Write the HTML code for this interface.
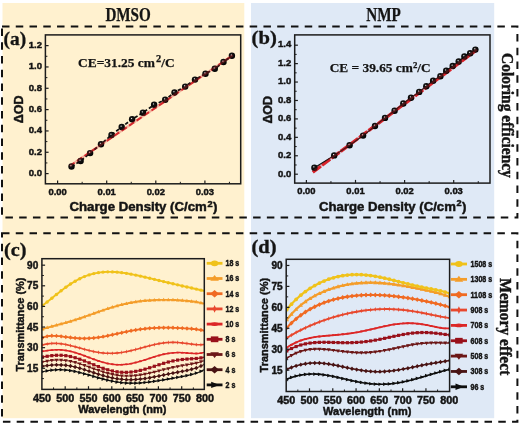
<!DOCTYPE html>
<html><head><meta charset="utf-8"><title>Coloring efficiency and memory effect</title>
<style>html,body{margin:0;padding:0;background:#fff;}svg{display:block;}</style></head>
<body><svg width="520" height="424" viewBox="0 0 520 424"><defs><radialGradient id="ball" cx="0.45" cy="0.42" r="0.6" fx="0.4" fy="0.36"><stop offset="0" stop-color="#f0f0f0"/><stop offset="0.1" stop-color="#9a9a9a"/><stop offset="0.28" stop-color="#141414"/><stop offset="1" stop-color="#000"/></radialGradient></defs><rect x="0" y="0" width="520" height="424" fill="#ffffff"/><rect x="2.5" y="3" width="241.8" height="415.2" fill="#fff1cf"/><rect x="251" y="3" width="243.2" height="415.2" fill="#dfe9f6"/><text x="105.4" y="20.8" font-size="17.8" font-family="Liberation Serif, Times New Roman, serif" font-weight="bold" fill="#141414" stroke="#141414" stroke-width="0.25" textLength="45.4" lengthAdjust="spacingAndGlyphs">DMSO</text><text x="366.2" y="20.7" font-size="17.8" font-family="Liberation Serif, Times New Roman, serif" font-weight="bold" fill="#141414" stroke="#141414" stroke-width="0.25" textLength="34.6" lengthAdjust="spacingAndGlyphs">NMP</text><path d="M2 26.6H517.4V217.6H2Z" stroke="#111" stroke-width="2" fill="none" stroke-dasharray="7.5 6.26"/><path d="M2 233.3H517.4V421.8H2Z" stroke="#111" stroke-width="2" fill="none" stroke-dasharray="7.5 6.26"/><text transform="translate(501.6 115.4) rotate(90)" font-size="16.2" font-family="Liberation Serif, Times New Roman, serif" font-weight="bold" fill="#141414" stroke="#141414" stroke-width="0.45" text-anchor="middle" textLength="124.8" lengthAdjust="spacingAndGlyphs">Coloring efficiency</text><text transform="translate(499.6 326.8) rotate(90)" font-size="16.2" font-family="Liberation Serif, Times New Roman, serif" font-weight="bold" fill="#141414" stroke="#141414" stroke-width="0.45" text-anchor="middle" textLength="97" lengthAdjust="spacingAndGlyphs">Memory effect</text><text x="3.6" y="45.3" font-size="18.5" font-family="Liberation Serif, Times New Roman, serif" font-weight="bold" fill="#141414" stroke="#141414" stroke-width="0.3" textLength="22.6" lengthAdjust="spacingAndGlyphs">(a)</text><text x="251.6" y="43.9" font-size="18.5" font-family="Liberation Serif, Times New Roman, serif" font-weight="bold" fill="#141414" stroke="#141414" stroke-width="0.3" textLength="25.2" lengthAdjust="spacingAndGlyphs">(b)</text><text x="4.1" y="255.7" font-size="18.5" font-family="Liberation Serif, Times New Roman, serif" font-weight="bold" fill="#141414" stroke="#141414" stroke-width="0.3" textLength="22.5" lengthAdjust="spacingAndGlyphs">(c)</text><text x="251.5" y="253.4" font-size="18.5" font-family="Liberation Serif, Times New Roman, serif" font-weight="bold" fill="#141414" stroke="#141414" stroke-width="0.35" textLength="25" lengthAdjust="spacingAndGlyphs">(d)</text><rect x="45.4" y="34.9" width="195.3" height="148.9" fill="none" stroke="#1c1c1c" stroke-width="1.5"/><path d="M45.4 173.6h3.2" stroke="#1c1c1c" stroke-width="1.2"/><text x="42" y="175.9" font-size="9.6" font-family="Liberation Sans, Arial, sans-serif" font-weight="bold" fill="#141414" stroke="#141414" stroke-width="0.45" text-anchor="end" textLength="13.2" lengthAdjust="spacingAndGlyphs">0.0</text><path d="M45.4 162.94h2" stroke="#1c1c1c" stroke-width="1"/><path d="M45.4 152.27h3.2" stroke="#1c1c1c" stroke-width="1.2"/><text x="42" y="154.57" font-size="9.6" font-family="Liberation Sans, Arial, sans-serif" font-weight="bold" fill="#141414" stroke="#141414" stroke-width="0.45" text-anchor="end" textLength="13.2" lengthAdjust="spacingAndGlyphs">0.2</text><path d="M45.4 141.6h2" stroke="#1c1c1c" stroke-width="1"/><path d="M45.4 130.94h3.2" stroke="#1c1c1c" stroke-width="1.2"/><text x="42" y="133.24" font-size="9.6" font-family="Liberation Sans, Arial, sans-serif" font-weight="bold" fill="#141414" stroke="#141414" stroke-width="0.45" text-anchor="end" textLength="13.2" lengthAdjust="spacingAndGlyphs">0.4</text><path d="M45.4 120.28h2" stroke="#1c1c1c" stroke-width="1"/><path d="M45.4 109.61h3.2" stroke="#1c1c1c" stroke-width="1.2"/><text x="42" y="111.91" font-size="9.6" font-family="Liberation Sans, Arial, sans-serif" font-weight="bold" fill="#141414" stroke="#141414" stroke-width="0.45" text-anchor="end" textLength="13.2" lengthAdjust="spacingAndGlyphs">0.6</text><path d="M45.4 98.94h2" stroke="#1c1c1c" stroke-width="1"/><path d="M45.4 88.28h3.2" stroke="#1c1c1c" stroke-width="1.2"/><text x="42" y="90.58" font-size="9.6" font-family="Liberation Sans, Arial, sans-serif" font-weight="bold" fill="#141414" stroke="#141414" stroke-width="0.45" text-anchor="end" textLength="13.2" lengthAdjust="spacingAndGlyphs">0.8</text><path d="M45.4 77.62h2" stroke="#1c1c1c" stroke-width="1"/><path d="M45.4 66.95h3.2" stroke="#1c1c1c" stroke-width="1.2"/><text x="42" y="69.25" font-size="9.6" font-family="Liberation Sans, Arial, sans-serif" font-weight="bold" fill="#141414" stroke="#141414" stroke-width="0.45" text-anchor="end" textLength="13.2" lengthAdjust="spacingAndGlyphs">1.0</text><path d="M45.4 56.29h2" stroke="#1c1c1c" stroke-width="1"/><path d="M45.4 45.62h3.2" stroke="#1c1c1c" stroke-width="1.2"/><text x="42" y="47.92" font-size="9.6" font-family="Liberation Sans, Arial, sans-serif" font-weight="bold" fill="#141414" stroke="#141414" stroke-width="0.45" text-anchor="end" textLength="13.2" lengthAdjust="spacingAndGlyphs">1.2</text><path d="M57.6 183.8v-3.2" stroke="#1c1c1c" stroke-width="1.2"/><text x="57.6" y="195.1" font-size="9.9" font-family="Liberation Sans, Arial, sans-serif" font-weight="bold" fill="#141414" stroke="#141414" stroke-width="0.45" text-anchor="middle" textLength="18.3" lengthAdjust="spacingAndGlyphs">0.00</text><path d="M82.15 183.8v-2" stroke="#1c1c1c" stroke-width="1"/><path d="M106.7 183.8v-3.2" stroke="#1c1c1c" stroke-width="1.2"/><text x="106.7" y="195.1" font-size="9.9" font-family="Liberation Sans, Arial, sans-serif" font-weight="bold" fill="#141414" stroke="#141414" stroke-width="0.45" text-anchor="middle" textLength="18.3" lengthAdjust="spacingAndGlyphs">0.01</text><path d="M131.25 183.8v-2" stroke="#1c1c1c" stroke-width="1"/><path d="M155.8 183.8v-3.2" stroke="#1c1c1c" stroke-width="1.2"/><text x="155.8" y="195.1" font-size="9.9" font-family="Liberation Sans, Arial, sans-serif" font-weight="bold" fill="#141414" stroke="#141414" stroke-width="0.45" text-anchor="middle" textLength="18.3" lengthAdjust="spacingAndGlyphs">0.02</text><path d="M180.35 183.8v-2" stroke="#1c1c1c" stroke-width="1"/><path d="M204.9 183.8v-3.2" stroke="#1c1c1c" stroke-width="1.2"/><text x="204.9" y="195.1" font-size="9.9" font-family="Liberation Sans, Arial, sans-serif" font-weight="bold" fill="#141414" stroke="#141414" stroke-width="0.45" text-anchor="middle" textLength="18.3" lengthAdjust="spacingAndGlyphs">0.03</text><path d="M229.45 183.8v-2" stroke="#1c1c1c" stroke-width="1"/><path d="M69.6 166.1L232.8 55.3" stroke="#d42a2e" stroke-width="2" stroke-dasharray="6 3" fill="none"/><path d="M71.5 166.5L80.6 161L90.1 153.1L101 144.2L111.5 135L121.7 127L132.1 119.3L142.9 112.7L154.1 104.8L165.2 99.7L174.5 92.5L185.2 86.6L195 79.6L205.5 73.7L214.8 68.8L223.5 62L231.9 55.8" stroke="#111" stroke-width="1.8" stroke-dasharray="3.5 2.2" fill="none"/><circle cx="71.5" cy="166.5" r="3.2" fill="url(#ball)"/><circle cx="80.6" cy="161" r="3.2" fill="url(#ball)"/><circle cx="90.1" cy="153.1" r="3.2" fill="url(#ball)"/><circle cx="101" cy="144.2" r="3.2" fill="url(#ball)"/><circle cx="111.5" cy="135" r="3.2" fill="url(#ball)"/><circle cx="121.7" cy="127" r="3.2" fill="url(#ball)"/><circle cx="132.1" cy="119.3" r="3.2" fill="url(#ball)"/><circle cx="142.9" cy="112.7" r="3.2" fill="url(#ball)"/><circle cx="154.1" cy="104.8" r="3.2" fill="url(#ball)"/><circle cx="165.2" cy="99.7" r="3.2" fill="url(#ball)"/><circle cx="174.5" cy="92.5" r="3.2" fill="url(#ball)"/><circle cx="185.2" cy="86.6" r="3.2" fill="url(#ball)"/><circle cx="195" cy="79.6" r="3.2" fill="url(#ball)"/><circle cx="205.5" cy="73.7" r="3.2" fill="url(#ball)"/><circle cx="214.8" cy="68.8" r="3.2" fill="url(#ball)"/><circle cx="223.5" cy="62" r="3.2" fill="url(#ball)"/><circle cx="231.9" cy="55.8" r="3.2" fill="url(#ball)"/><path d="M69.6 166.1L232.8 55.3" stroke="#d8232b" stroke-width="2.4" fill="none" opacity="0.3"/><text x="78" y="67" font-size="12.9" font-family="Liberation Serif, Times New Roman, serif" font-weight="bold" fill="#141414" stroke="#141414" stroke-width="0.25" textLength="96.7" lengthAdjust="spacingAndGlyphs">CE=31.25 cm<tspan dx="1" dy="-4.6" font-size="10">2</tspan><tspan dy="4.6">/C</tspan></text><text transform="translate(23.3 109.4) rotate(-90)" x="0" y="0" font-size="12" font-family="Liberation Sans, Arial, sans-serif" font-weight="bold" fill="#141414" stroke="#141414" stroke-width="0.45" text-anchor="middle" textLength="27.6" lengthAdjust="spacingAndGlyphs">ΔOD</text><text x="69.5" y="211" font-size="11.9" font-family="Liberation Sans, Arial, sans-serif" font-weight="bold" fill="#141414" stroke="#141414" stroke-width="0.45" textLength="148" lengthAdjust="spacingAndGlyphs">Charge Density (C/cm<tspan dx="0.5" dy="-4.4" font-size="8.3">2</tspan><tspan dx="0.5" dy="4.4">)</tspan></text><rect x="294.7" y="34.9" width="195.3" height="148.2" fill="none" stroke="#1c1c1c" stroke-width="1.5"/><path d="M294.7 174.2h3.2" stroke="#1c1c1c" stroke-width="1.2"/><text x="291.3" y="176.5" font-size="9.6" font-family="Liberation Sans, Arial, sans-serif" font-weight="bold" fill="#141414" stroke="#141414" stroke-width="0.45" text-anchor="end" textLength="13.2" lengthAdjust="spacingAndGlyphs">0.0</text><path d="M294.7 164.98h2" stroke="#1c1c1c" stroke-width="1"/><path d="M294.7 155.77h3.2" stroke="#1c1c1c" stroke-width="1.2"/><text x="291.3" y="158.07" font-size="9.6" font-family="Liberation Sans, Arial, sans-serif" font-weight="bold" fill="#141414" stroke="#141414" stroke-width="0.45" text-anchor="end" textLength="13.2" lengthAdjust="spacingAndGlyphs">0.2</text><path d="M294.7 146.55h2" stroke="#1c1c1c" stroke-width="1"/><path d="M294.7 137.34h3.2" stroke="#1c1c1c" stroke-width="1.2"/><text x="291.3" y="139.64" font-size="9.6" font-family="Liberation Sans, Arial, sans-serif" font-weight="bold" fill="#141414" stroke="#141414" stroke-width="0.45" text-anchor="end" textLength="13.2" lengthAdjust="spacingAndGlyphs">0.4</text><path d="M294.7 128.12h2" stroke="#1c1c1c" stroke-width="1"/><path d="M294.7 118.91h3.2" stroke="#1c1c1c" stroke-width="1.2"/><text x="291.3" y="121.21" font-size="9.6" font-family="Liberation Sans, Arial, sans-serif" font-weight="bold" fill="#141414" stroke="#141414" stroke-width="0.45" text-anchor="end" textLength="13.2" lengthAdjust="spacingAndGlyphs">0.6</text><path d="M294.7 109.69h2" stroke="#1c1c1c" stroke-width="1"/><path d="M294.7 100.48h3.2" stroke="#1c1c1c" stroke-width="1.2"/><text x="291.3" y="102.78" font-size="9.6" font-family="Liberation Sans, Arial, sans-serif" font-weight="bold" fill="#141414" stroke="#141414" stroke-width="0.45" text-anchor="end" textLength="13.2" lengthAdjust="spacingAndGlyphs">0.8</text><path d="M294.7 91.26h2" stroke="#1c1c1c" stroke-width="1"/><path d="M294.7 82.05h3.2" stroke="#1c1c1c" stroke-width="1.2"/><text x="291.3" y="84.35" font-size="9.6" font-family="Liberation Sans, Arial, sans-serif" font-weight="bold" fill="#141414" stroke="#141414" stroke-width="0.45" text-anchor="end" textLength="13.2" lengthAdjust="spacingAndGlyphs">1.0</text><path d="M294.7 72.83h2" stroke="#1c1c1c" stroke-width="1"/><path d="M294.7 63.62h3.2" stroke="#1c1c1c" stroke-width="1.2"/><text x="291.3" y="65.92" font-size="9.6" font-family="Liberation Sans, Arial, sans-serif" font-weight="bold" fill="#141414" stroke="#141414" stroke-width="0.45" text-anchor="end" textLength="13.2" lengthAdjust="spacingAndGlyphs">1.2</text><path d="M294.7 54.4h2" stroke="#1c1c1c" stroke-width="1"/><path d="M294.7 45.19h3.2" stroke="#1c1c1c" stroke-width="1.2"/><text x="291.3" y="47.49" font-size="9.6" font-family="Liberation Sans, Arial, sans-serif" font-weight="bold" fill="#141414" stroke="#141414" stroke-width="0.45" text-anchor="end" textLength="13.2" lengthAdjust="spacingAndGlyphs">1.4</text><path d="M306.4 183.1v-3.2" stroke="#1c1c1c" stroke-width="1.2"/><text x="306.4" y="194.4" font-size="9.9" font-family="Liberation Sans, Arial, sans-serif" font-weight="bold" fill="#141414" stroke="#141414" stroke-width="0.45" text-anchor="middle" textLength="18.3" lengthAdjust="spacingAndGlyphs">0.00</text><path d="M330.95 183.1v-2" stroke="#1c1c1c" stroke-width="1"/><path d="M355.5 183.1v-3.2" stroke="#1c1c1c" stroke-width="1.2"/><text x="355.5" y="194.4" font-size="9.9" font-family="Liberation Sans, Arial, sans-serif" font-weight="bold" fill="#141414" stroke="#141414" stroke-width="0.45" text-anchor="middle" textLength="18.3" lengthAdjust="spacingAndGlyphs">0.01</text><path d="M380.05 183.1v-2" stroke="#1c1c1c" stroke-width="1"/><path d="M404.6 183.1v-3.2" stroke="#1c1c1c" stroke-width="1.2"/><text x="404.6" y="194.4" font-size="9.9" font-family="Liberation Sans, Arial, sans-serif" font-weight="bold" fill="#141414" stroke="#141414" stroke-width="0.45" text-anchor="middle" textLength="18.3" lengthAdjust="spacingAndGlyphs">0.02</text><path d="M429.15 183.1v-2" stroke="#1c1c1c" stroke-width="1"/><path d="M453.7 183.1v-3.2" stroke="#1c1c1c" stroke-width="1.2"/><text x="453.7" y="194.4" font-size="9.9" font-family="Liberation Sans, Arial, sans-serif" font-weight="bold" fill="#141414" stroke="#141414" stroke-width="0.45" text-anchor="middle" textLength="18.3" lengthAdjust="spacingAndGlyphs">0.03</text><path d="M478.25 183.1v-2" stroke="#1c1c1c" stroke-width="1"/><path d="M312.8 172.2L476.8 49.9" stroke="#d8232b" stroke-width="3.2" stroke-dasharray="10 1.6" fill="none"/><path d="M314.4 167.7L334.2 155.4L349.6 145.2L363.1 135.6L375 126L385 117.9L394.6 110.7L403.3 103.5L411 97.7L419.2 91.9L426.3 86.2L433.1 80.8L440.4 76.2L446.2 70.8L452.7 66L458.7 61.5L464.4 56.5L470.2 53.2L475.4 49.6" stroke="#111" stroke-width="1.2" fill="none"/><circle cx="314.4" cy="167.7" r="3.2" fill="url(#ball)"/><circle cx="334.2" cy="155.4" r="3.2" fill="url(#ball)"/><circle cx="349.6" cy="145.2" r="3.2" fill="url(#ball)"/><circle cx="363.1" cy="135.6" r="3.2" fill="url(#ball)"/><circle cx="375" cy="126" r="3.2" fill="url(#ball)"/><circle cx="385" cy="117.9" r="3.2" fill="url(#ball)"/><circle cx="394.6" cy="110.7" r="3.2" fill="url(#ball)"/><circle cx="403.3" cy="103.5" r="3.2" fill="url(#ball)"/><circle cx="411" cy="97.7" r="3.2" fill="url(#ball)"/><circle cx="419.2" cy="91.9" r="3.2" fill="url(#ball)"/><circle cx="426.3" cy="86.2" r="3.2" fill="url(#ball)"/><circle cx="433.1" cy="80.8" r="3.2" fill="url(#ball)"/><circle cx="440.4" cy="76.2" r="3.2" fill="url(#ball)"/><circle cx="446.2" cy="70.8" r="3.2" fill="url(#ball)"/><circle cx="452.7" cy="66" r="3.2" fill="url(#ball)"/><circle cx="458.7" cy="61.5" r="3.2" fill="url(#ball)"/><circle cx="464.4" cy="56.5" r="3.2" fill="url(#ball)"/><circle cx="470.2" cy="53.2" r="3.2" fill="url(#ball)"/><circle cx="475.4" cy="49.6" r="3.2" fill="url(#ball)"/><path d="M312.8 171.9L476.8 49.6" stroke="#d8232b" stroke-width="2.4" fill="none" opacity="0.3"/><text x="329.7" y="71.7" font-size="12.9" font-family="Liberation Serif, Times New Roman, serif" font-weight="bold" fill="#141414" stroke="#141414" stroke-width="0.25" textLength="101" lengthAdjust="spacingAndGlyphs">CE = 39.65 cm<tspan dy="-4.2" font-size="8.5">2</tspan><tspan dy="4.2">/C</tspan></text><text transform="translate(272.4 109.8) rotate(-90)" x="0" y="0" font-size="12" font-family="Liberation Sans, Arial, sans-serif" font-weight="bold" fill="#141414" stroke="#141414" stroke-width="0.45" text-anchor="middle" textLength="27.6" lengthAdjust="spacingAndGlyphs">ΔOD</text><text x="319" y="210.5" font-size="11.9" font-family="Liberation Sans, Arial, sans-serif" font-weight="bold" fill="#141414" stroke="#141414" stroke-width="0.45" textLength="147.5" lengthAdjust="spacingAndGlyphs">Charge Density (C/cm<tspan dx="0.5" dy="-4.4" font-size="8.3">2</tspan><tspan dx="0.5" dy="4.4">)</tspan></text><clipPath id="cc"><rect x="41.9" y="258.7" width="162.4" height="130.7"/></clipPath><g clip-path="url(#cc)"><path d="M41.9 371.86L43.4 371.53L44.9 371.23L46.4 370.94L47.9 370.68L49.4 370.45L50.9 370.24L52.4 370.07L53.9 369.93L55.4 369.83L56.9 369.75L58.4 369.72L59.9 369.71L61.4 369.74L62.9 369.81L64.4 369.9L65.9 370.03L67.4 370.2L68.9 370.39L70.4 370.61L71.9 370.86L73.4 371.13L74.9 371.43L76.4 371.75L77.9 372.09L79.4 372.45L80.9 372.83L82.4 373.22L83.9 373.63L85.4 374.05L86.9 374.47L88.4 374.9L89.9 375.34L91.4 375.78L92.9 376.22L94.4 376.66L95.9 377.1L97.4 377.53L98.9 377.96L100.4 378.37L101.9 378.78L103.4 379.18L104.9 379.56L106.4 379.93L107.9 380.28L109.4 380.62L110.9 380.94L112.4 381.24L113.9 381.52L115.4 381.79L116.9 382.03L118.4 382.24L119.9 382.44L121.4 382.61L122.9 382.77L124.4 382.89L125.9 383L127.4 383.08L128.9 383.14L130.4 383.18L131.9 383.2L133.4 383.19L134.9 383.17L136.4 383.12L137.9 383.05L139.4 382.97L140.9 382.87L142.4 382.75L143.9 382.61L145.4 382.46L146.9 382.29L148.4 382.11L149.9 381.92L151.4 381.72L152.9 381.51L154.4 381.29L155.9 381.06L157.4 380.83L158.9 380.59L160.4 380.34L161.9 380.09L163.4 379.84L164.9 379.58L166.4 379.33L167.9 379.07L169.4 378.81L170.9 378.55L172.4 378.29L173.9 378.02L175.4 377.76L176.9 377.49L178.4 377.22L179.9 376.95L181.4 376.67L182.9 376.38L184.4 376.09L185.9 375.78L187.4 375.46L188.9 375.12L190.4 374.76L191.9 374.38L193.4 373.97L194.9 373.53L196.4 373.04L197.9 372.52L199.4 371.94L200.9 371.31L202.4 370.61L203.9 369.84L205.4 368.98" stroke="#0e0e0e" stroke-width="1.2" fill="none"/><path d="M44.71 371.73L40.97 369.86L40.97 373.6Z" fill="#0e0e0e"/><path d="M49.37 370.8L45.63 368.93L45.63 372.67Z" fill="#0e0e0e"/><path d="M54.03 370.13L50.29 368.26L50.29 372Z" fill="#0e0e0e"/><path d="M58.69 369.77L54.95 367.9L54.95 371.64Z" fill="#0e0e0e"/><path d="M63.35 369.73L59.61 367.86L59.61 371.6Z" fill="#0e0e0e"/><path d="M68.01 370.03L64.27 368.16L64.27 371.9Z" fill="#0e0e0e"/><path d="M72.67 370.62L68.93 368.75L68.93 372.49Z" fill="#0e0e0e"/><path d="M77.33 371.48L73.59 369.61L73.59 373.35Z" fill="#0e0e0e"/><path d="M81.99 372.55L78.25 370.68L78.25 374.42Z" fill="#0e0e0e"/><path d="M86.65 373.78L82.91 371.91L82.91 375.65Z" fill="#0e0e0e"/><path d="M91.31 375.11L87.57 373.24L87.57 376.98Z" fill="#0e0e0e"/><path d="M95.97 376.47L92.23 374.6L92.23 378.34Z" fill="#0e0e0e"/><path d="M100.63 377.82L96.89 375.95L96.89 379.69Z" fill="#0e0e0e"/><path d="M105.29 379.09L101.55 377.22L101.55 380.96Z" fill="#0e0e0e"/><path d="M109.95 380.25L106.21 378.38L106.21 382.12Z" fill="#0e0e0e"/><path d="M114.61 381.24L110.87 379.37L110.87 383.11Z" fill="#0e0e0e"/><path d="M119.27 382.05L115.53 380.18L115.53 383.92Z" fill="#0e0e0e"/><path d="M123.93 382.65L120.19 380.78L120.19 384.52Z" fill="#0e0e0e"/><path d="M128.59 383.03L124.85 381.16L124.85 384.9Z" fill="#0e0e0e"/><path d="M133.25 383.19L129.51 381.32L129.51 385.06Z" fill="#0e0e0e"/><path d="M137.91 383.14L134.17 381.27L134.17 385.01Z" fill="#0e0e0e"/><path d="M142.57 382.91L138.83 381.04L138.83 384.78Z" fill="#0e0e0e"/><path d="M147.23 382.5L143.49 380.63L143.49 384.37Z" fill="#0e0e0e"/><path d="M151.89 381.95L148.15 380.08L148.15 383.82Z" fill="#0e0e0e"/><path d="M156.55 381.3L152.81 379.43L152.81 383.17Z" fill="#0e0e0e"/><path d="M161.21 380.57L157.47 378.7L157.47 382.44Z" fill="#0e0e0e"/><path d="M165.87 379.79L162.13 377.92L162.13 381.66Z" fill="#0e0e0e"/><path d="M170.53 379L166.79 377.13L166.79 380.87Z" fill="#0e0e0e"/><path d="M175.19 378.18L171.45 376.31L171.45 380.05Z" fill="#0e0e0e"/><path d="M179.85 377.36L176.11 375.49L176.11 379.23Z" fill="#0e0e0e"/><path d="M184.51 376.5L180.77 374.63L180.77 378.37Z" fill="#0e0e0e"/><path d="M189.17 375.56L185.43 373.69L185.43 377.43Z" fill="#0e0e0e"/><path d="M193.83 374.45L190.09 372.58L190.09 376.32Z" fill="#0e0e0e"/><path d="M198.49 373.08L194.75 371.21L194.75 374.95Z" fill="#0e0e0e"/><path d="M203.15 371.29L199.41 369.42L199.41 373.16Z" fill="#0e0e0e"/><path d="M207.81 368.86L204.07 366.99L204.07 370.73Z" fill="#0e0e0e"/><path d="M41.9 366.32L43.4 366.11L44.9 365.9L46.4 365.69L47.9 365.5L49.4 365.33L50.9 365.18L52.4 365.06L53.9 364.96L55.4 364.89L56.9 364.86L58.4 364.85L59.9 364.88L61.4 364.94L62.9 365.04L64.4 365.17L65.9 365.33L67.4 365.53L68.9 365.76L70.4 366.01L71.9 366.3L73.4 366.62L74.9 366.96L76.4 367.33L77.9 367.72L79.4 368.13L80.9 368.56L82.4 369L83.9 369.46L85.4 369.93L86.9 370.41L88.4 370.9L89.9 371.39L91.4 371.89L92.9 372.38L94.4 372.88L95.9 373.37L97.4 373.85L98.9 374.32L100.4 374.79L101.9 375.24L103.4 375.68L104.9 376.1L106.4 376.5L107.9 376.89L109.4 377.25L110.9 377.59L112.4 377.91L113.9 378.21L115.4 378.48L116.9 378.72L118.4 378.94L119.9 379.13L121.4 379.29L122.9 379.43L124.4 379.54L125.9 379.62L127.4 379.68L128.9 379.7L130.4 379.71L131.9 379.68L133.4 379.63L134.9 379.55L136.4 379.46L137.9 379.33L139.4 379.19L140.9 379.03L142.4 378.84L143.9 378.64L145.4 378.42L146.9 378.19L148.4 377.94L149.9 377.68L151.4 377.41L152.9 377.13L154.4 376.84L155.9 376.55L157.4 376.25L158.9 375.95L160.4 375.64L161.9 375.33L163.4 375.03L164.9 374.72L166.4 374.42L167.9 374.11L169.4 373.81L170.9 373.52L172.4 373.22L173.9 372.94L175.4 372.65L176.9 372.36L178.4 372.08L179.9 371.8L181.4 371.51L182.9 371.22L184.4 370.92L185.9 370.62L187.4 370.3L188.9 369.97L190.4 369.61L191.9 369.23L193.4 368.82L194.9 368.37L196.4 367.88L197.9 367.34L199.4 366.74L200.9 366.07L202.4 365.32L203.9 364.49L205.4 363.56" stroke="#481313" stroke-width="1.1" fill="none"/><path d="M42.5 364.03L44.45 366.24L42.5 368.45L40.55 366.24Z" fill="#481313"/><path d="M47.16 363.39L49.12 365.6L47.16 367.81L45.21 365.6Z" fill="#481313"/><path d="M51.82 362.9L53.77 365.11L51.82 367.32L49.87 365.11Z" fill="#481313"/><path d="M56.48 362.65L58.43 364.86L56.48 367.07L54.52 364.86Z" fill="#481313"/><path d="M61.14 362.72L63.09 364.93L61.14 367.14L59.19 364.93Z" fill="#481313"/><path d="M65.8 363.11L67.75 365.32L65.8 367.53L63.84 365.32Z" fill="#481313"/><path d="M70.46 363.81L72.41 366.02L70.46 368.23L68.5 366.02Z" fill="#481313"/><path d="M75.12 364.8L77.07 367.01L75.12 369.22L73.16 367.01Z" fill="#481313"/><path d="M79.78 366.02L81.73 368.23L79.78 370.44L77.83 368.23Z" fill="#481313"/><path d="M84.44 367.42L86.39 369.63L84.44 371.84L82.48 369.63Z" fill="#481313"/><path d="M89.1 368.92L91.05 371.13L89.1 373.34L87.14 371.13Z" fill="#481313"/><path d="M93.76 370.46L95.71 372.67L93.76 374.88L91.8 372.67Z" fill="#481313"/><path d="M98.42 371.96L100.37 374.17L98.42 376.38L96.46 374.17Z" fill="#481313"/><path d="M103.08 373.37L105.03 375.58L103.08 377.79L101.12 375.58Z" fill="#481313"/><path d="M107.74 374.63L109.69 376.84L107.74 379.05L105.78 376.84Z" fill="#481313"/><path d="M112.4 375.7L114.36 377.91L112.4 380.12L110.45 377.91Z" fill="#481313"/><path d="M117.06 376.54L119.02 378.75L117.06 380.96L115.11 378.75Z" fill="#481313"/><path d="M121.72 377.12L123.67 379.33L121.72 381.54L119.77 379.33Z" fill="#481313"/><path d="M126.38 377.43L128.34 379.64L126.38 381.85L124.42 379.64Z" fill="#481313"/><path d="M131.04 377.49L133 379.7L131.04 381.91L129.08 379.7Z" fill="#481313"/><path d="M135.7 377.29L137.66 379.5L135.7 381.71L133.74 379.5Z" fill="#481313"/><path d="M140.36 376.88L142.31 379.09L140.36 381.3L138.4 379.09Z" fill="#481313"/><path d="M145.02 376.27L146.98 378.48L145.02 380.69L143.06 378.48Z" fill="#481313"/><path d="M149.68 375.51L151.63 377.72L149.68 379.93L147.72 377.72Z" fill="#481313"/><path d="M154.34 374.64L156.3 376.85L154.34 379.06L152.38 376.85Z" fill="#481313"/><path d="M159 373.72L160.96 375.93L159 378.14L157.04 375.93Z" fill="#481313"/><path d="M163.66 372.76L165.62 374.97L163.66 377.18L161.7 374.97Z" fill="#481313"/><path d="M168.32 371.82L170.28 374.03L168.32 376.24L166.36 374.03Z" fill="#481313"/><path d="M172.98 370.9L174.94 373.11L172.98 375.32L171.02 373.11Z" fill="#481313"/><path d="M177.64 370.01L179.6 372.22L177.64 374.43L175.69 372.22Z" fill="#481313"/><path d="M182.3 369.13L184.26 371.34L182.3 373.55L180.34 371.34Z" fill="#481313"/><path d="M186.96 368.19L188.92 370.4L186.96 372.61L185 370.4Z" fill="#481313"/><path d="M191.62 367.09L193.58 369.3L191.62 371.51L189.66 369.3Z" fill="#481313"/><path d="M196.28 365.71L198.24 367.92L196.28 370.13L194.32 367.92Z" fill="#481313"/><path d="M200.94 363.84L202.9 366.05L200.94 368.26L198.98 366.05Z" fill="#481313"/><path d="M205.6 361.22L207.56 363.43L205.6 365.64L203.64 363.43Z" fill="#481313"/><path d="M41.9 362.14L43.4 361.8L44.9 361.49L46.4 361.19L47.9 360.92L49.4 360.68L50.9 360.47L52.4 360.3L53.9 360.16L55.4 360.07L56.9 360.01L58.4 359.99L59.9 360.02L61.4 360.08L62.9 360.19L64.4 360.33L65.9 360.52L67.4 360.74L68.9 361L70.4 361.3L71.9 361.63L73.4 361.99L74.9 362.38L76.4 362.8L77.9 363.24L79.4 363.7L80.9 364.19L82.4 364.69L83.9 365.21L85.4 365.73L86.9 366.27L88.4 366.81L89.9 367.36L91.4 367.91L92.9 368.46L94.4 369L95.9 369.54L97.4 370.07L98.9 370.58L100.4 371.09L101.9 371.58L103.4 372.05L104.9 372.5L106.4 372.93L107.9 373.33L109.4 373.71L110.9 374.07L112.4 374.4L113.9 374.7L115.4 374.97L116.9 375.21L118.4 375.42L119.9 375.6L121.4 375.74L122.9 375.86L124.4 375.94L125.9 375.99L127.4 376.01L128.9 376L130.4 375.95L131.9 375.88L133.4 375.78L134.9 375.64L136.4 375.49L137.9 375.3L139.4 375.09L140.9 374.86L142.4 374.6L143.9 374.33L145.4 374.03L146.9 373.72L148.4 373.4L149.9 373.06L151.4 372.71L152.9 372.35L154.4 371.98L155.9 371.6L157.4 371.22L158.9 370.84L160.4 370.46L161.9 370.08L163.4 369.71L164.9 369.33L166.4 368.97L167.9 368.61L169.4 368.25L170.9 367.91L172.4 367.58L173.9 367.25L175.4 366.94L176.9 366.64L178.4 366.35L179.9 366.06L181.4 365.79L182.9 365.52L184.4 365.26L185.9 365L187.4 364.74L188.9 364.48L190.4 364.21L191.9 363.93L193.4 363.64L194.9 363.32L196.4 362.99L197.9 362.61L199.4 362.2L200.9 361.74L202.4 361.23L203.9 360.65L205.4 359.99" stroke="#6c1717" stroke-width="1.1" fill="none"/><path d="M42.5 364.13L44.45 360.64L40.55 360.64Z" fill="#6c1717"/><path d="M47.16 363.17L49.12 359.69L45.21 359.69Z" fill="#6c1717"/><path d="M51.82 362.49L53.77 359L49.87 359Z" fill="#6c1717"/><path d="M56.48 362.15L58.43 358.66L54.52 358.66Z" fill="#6c1717"/><path d="M61.14 362.19L63.09 358.71L59.19 358.71Z" fill="#6c1717"/><path d="M65.8 362.63L67.75 359.15L63.84 359.15Z" fill="#6c1717"/><path d="M70.46 363.44L72.41 359.95L68.5 359.95Z" fill="#6c1717"/><path d="M75.12 364.57L77.07 361.08L73.16 361.08Z" fill="#6c1717"/><path d="M79.78 365.95L81.73 362.46L77.83 362.46Z" fill="#6c1717"/><path d="M84.44 367.52L86.39 364.03L82.48 364.03Z" fill="#6c1717"/><path d="M89.1 369.19L91.05 365.71L87.14 365.71Z" fill="#6c1717"/><path d="M93.76 370.89L95.71 367.41L91.8 367.41Z" fill="#6c1717"/><path d="M98.42 372.54L100.37 369.06L96.46 369.06Z" fill="#6c1717"/><path d="M103.08 374.07L105.03 370.59L101.12 370.59Z" fill="#6c1717"/><path d="M107.74 375.42L109.69 371.93L105.78 371.93Z" fill="#6c1717"/><path d="M112.4 376.52L114.36 373.04L110.45 373.04Z" fill="#6c1717"/><path d="M117.06 377.36L119.02 373.87L115.11 373.87Z" fill="#6c1717"/><path d="M121.72 377.9L123.67 374.41L119.77 374.41Z" fill="#6c1717"/><path d="M126.38 378.12L128.34 374.64L124.42 374.64Z" fill="#6c1717"/><path d="M131.04 378.05L133 374.57L129.08 374.57Z" fill="#6c1717"/><path d="M135.7 377.69L137.66 374.2L133.74 374.2Z" fill="#6c1717"/><path d="M140.36 377.07L142.31 373.59L138.4 373.59Z" fill="#6c1717"/><path d="M145.02 376.24L146.98 372.75L143.06 372.75Z" fill="#6c1717"/><path d="M149.68 375.23L151.63 371.75L147.72 371.75Z" fill="#6c1717"/><path d="M154.34 374.12L156.3 370.63L152.38 370.63Z" fill="#6c1717"/><path d="M159 372.94L160.96 369.46L157.04 369.46Z" fill="#6c1717"/><path d="M163.66 371.77L165.62 368.28L161.7 368.28Z" fill="#6c1717"/><path d="M168.32 370.63L170.28 367.15L166.36 367.15Z" fill="#6c1717"/><path d="M172.98 369.58L174.94 366.09L171.02 366.09Z" fill="#6c1717"/><path d="M177.64 368.62L179.6 365.13L175.69 365.13Z" fill="#6c1717"/><path d="M182.3 367.75L184.26 364.27L180.34 364.27Z" fill="#6c1717"/><path d="M186.96 366.94L188.92 363.45L185 363.45Z" fill="#6c1717"/><path d="M191.62 366.11L193.58 362.62L189.66 362.62Z" fill="#6c1717"/><path d="M196.28 365.14L198.24 361.65L194.32 361.65Z" fill="#6c1717"/><path d="M200.94 363.85L202.9 360.37L198.98 360.37Z" fill="#6c1717"/><path d="M205.6 362.02L207.56 358.53L203.64 358.53Z" fill="#6c1717"/><path d="M41.9 357.09L43.4 356.87L44.9 356.63L46.4 356.4L47.9 356.17L49.4 355.95L50.9 355.76L52.4 355.59L53.9 355.45L55.4 355.34L56.9 355.27L58.4 355.23L59.9 355.24L61.4 355.29L62.9 355.39L64.4 355.52L65.9 355.7L67.4 355.93L68.9 356.19L70.4 356.5L71.9 356.84L73.4 357.23L74.9 357.64L76.4 358.1L77.9 358.58L79.4 359.09L80.9 359.62L82.4 360.17L83.9 360.75L85.4 361.34L86.9 361.94L88.4 362.55L89.9 363.16L91.4 363.78L92.9 364.4L94.4 365.01L95.9 365.62L97.4 366.21L98.9 366.79L100.4 367.36L101.9 367.9L103.4 368.42L104.9 368.92L106.4 369.39L107.9 369.84L109.4 370.25L110.9 370.63L112.4 370.97L113.9 371.28L115.4 371.55L116.9 371.78L118.4 371.98L119.9 372.13L121.4 372.24L122.9 372.32L124.4 372.35L125.9 372.34L127.4 372.3L128.9 372.21L130.4 372.08L131.9 371.92L133.4 371.73L134.9 371.49L136.4 371.23L137.9 370.93L139.4 370.61L140.9 370.25L142.4 369.87L143.9 369.47L145.4 369.05L146.9 368.61L148.4 368.16L149.9 367.69L151.4 367.22L152.9 366.73L154.4 366.25L155.9 365.76L157.4 365.27L158.9 364.79L160.4 364.32L161.9 363.85L163.4 363.4L164.9 362.96L166.4 362.54L167.9 362.14L169.4 361.76L170.9 361.4L172.4 361.07L173.9 360.76L175.4 360.47L176.9 360.21L178.4 359.98L179.9 359.77L181.4 359.59L182.9 359.42L184.4 359.28L185.9 359.16L187.4 359.05L188.9 358.95L190.4 358.86L191.9 358.77L193.4 358.68L194.9 358.57L196.4 358.45L197.9 358.3L199.4 358.1L200.9 357.87L202.4 357.57L203.9 357.2L205.4 356.74" stroke="#98101a" stroke-width="1.2" fill="none"/><rect x="40.9" y="355.4" width="3.2" height="3.2" fill="#98101a"/><rect x="45.56" y="354.68" width="3.2" height="3.2" fill="#98101a"/><rect x="50.22" y="354.05" width="3.2" height="3.2" fill="#98101a"/><rect x="54.88" y="353.68" width="3.2" height="3.2" fill="#98101a"/><rect x="59.54" y="353.68" width="3.2" height="3.2" fill="#98101a"/><rect x="64.2" y="354.09" width="3.2" height="3.2" fill="#98101a"/><rect x="68.86" y="354.91" width="3.2" height="3.2" fill="#98101a"/><rect x="73.52" y="356.11" width="3.2" height="3.2" fill="#98101a"/><rect x="78.18" y="357.62" width="3.2" height="3.2" fill="#98101a"/><rect x="82.84" y="359.36" width="3.2" height="3.2" fill="#98101a"/><rect x="87.5" y="361.24" width="3.2" height="3.2" fill="#98101a"/><rect x="92.16" y="363.15" width="3.2" height="3.2" fill="#98101a"/><rect x="96.82" y="365.01" width="3.2" height="3.2" fill="#98101a"/><rect x="101.48" y="366.71" width="3.2" height="3.2" fill="#98101a"/><rect x="106.14" y="368.19" width="3.2" height="3.2" fill="#98101a"/><rect x="110.8" y="369.37" width="3.2" height="3.2" fill="#98101a"/><rect x="115.46" y="370.2" width="3.2" height="3.2" fill="#98101a"/><rect x="120.12" y="370.66" width="3.2" height="3.2" fill="#98101a"/><rect x="124.78" y="370.73" width="3.2" height="3.2" fill="#98101a"/><rect x="129.44" y="370.42" width="3.2" height="3.2" fill="#98101a"/><rect x="134.1" y="369.76" width="3.2" height="3.2" fill="#98101a"/><rect x="138.76" y="368.78" width="3.2" height="3.2" fill="#98101a"/><rect x="143.42" y="367.56" width="3.2" height="3.2" fill="#98101a"/><rect x="148.08" y="366.16" width="3.2" height="3.2" fill="#98101a"/><rect x="152.74" y="364.67" width="3.2" height="3.2" fill="#98101a"/><rect x="157.4" y="363.16" width="3.2" height="3.2" fill="#98101a"/><rect x="162.06" y="361.72" width="3.2" height="3.2" fill="#98101a"/><rect x="166.72" y="360.43" width="3.2" height="3.2" fill="#98101a"/><rect x="171.38" y="359.34" width="3.2" height="3.2" fill="#98101a"/><rect x="176.04" y="358.49" width="3.2" height="3.2" fill="#98101a"/><rect x="180.7" y="357.89" width="3.2" height="3.2" fill="#98101a"/><rect x="185.36" y="357.48" width="3.2" height="3.2" fill="#98101a"/><rect x="190.02" y="357.19" width="3.2" height="3.2" fill="#98101a"/><rect x="194.68" y="356.86" width="3.2" height="3.2" fill="#98101a"/><rect x="199.34" y="356.26" width="3.2" height="3.2" fill="#98101a"/><rect x="204" y="355.07" width="3.2" height="3.2" fill="#98101a"/><path d="M41.9 351.32L43.4 351.13L44.9 350.92L46.4 350.72L47.9 350.52L49.4 350.33L50.9 350.17L52.4 350.03L53.9 349.92L55.4 349.85L56.9 349.81L58.4 349.81L59.9 349.85L61.4 349.94L62.9 350.06L64.4 350.23L65.9 350.44L67.4 350.69L68.9 350.98L70.4 351.31L71.9 351.67L73.4 352.07L74.9 352.49L76.4 352.95L77.9 353.43L79.4 353.94L80.9 354.46L82.4 355L83.9 355.56L85.4 356.12L86.9 356.69L88.4 357.26L89.9 357.83L91.4 358.4L92.9 358.96L94.4 359.51L95.9 360.04L97.4 360.56L98.9 361.06L100.4 361.53L101.9 361.98L103.4 362.4L104.9 362.79L106.4 363.15L107.9 363.48L109.4 363.77L110.9 364.02L112.4 364.24L113.9 364.41L115.4 364.55L116.9 364.64L118.4 364.7L119.9 364.71L121.4 364.68L122.9 364.62L124.4 364.51L125.9 364.36L127.4 364.18L128.9 363.96L130.4 363.7L131.9 363.41L133.4 363.09L134.9 362.75L136.4 362.37L137.9 361.97L139.4 361.55L140.9 361.11L142.4 360.65L143.9 360.18L145.4 359.7L146.9 359.22L148.4 358.73L149.9 358.24L151.4 357.75L152.9 357.27L154.4 356.8L155.9 356.34L157.4 355.9L158.9 355.47L160.4 355.07L161.9 354.69L163.4 354.34L164.9 354.01L166.4 353.72L167.9 353.46L169.4 353.23L170.9 353.04L172.4 352.88L173.9 352.76L175.4 352.67L176.9 352.62L178.4 352.6L179.9 352.61L181.4 352.65L182.9 352.72L184.4 352.8L185.9 352.91L187.4 353.02L188.9 353.14L190.4 353.25L191.9 353.35L193.4 353.44L194.9 353.49L196.4 353.5L197.9 353.45L199.4 353.33L200.9 353.13L202.4 352.83L203.9 352.41L205.4 351.85" stroke="#dc2626" stroke-width="1.5" fill="none"/><ellipse cx="42.5" cy="351.25" rx="1.65" ry="0.93" fill="#dc2626"/><ellipse cx="47.16" cy="350.61" rx="1.65" ry="0.93" fill="#dc2626"/><ellipse cx="51.82" cy="350.08" rx="1.65" ry="0.93" fill="#dc2626"/><ellipse cx="56.48" cy="349.82" rx="1.65" ry="0.93" fill="#dc2626"/><ellipse cx="61.14" cy="349.92" rx="1.65" ry="0.93" fill="#dc2626"/><ellipse cx="65.8" cy="350.42" rx="1.65" ry="0.93" fill="#dc2626"/><ellipse cx="70.46" cy="351.32" rx="1.65" ry="0.93" fill="#dc2626"/><ellipse cx="75.12" cy="352.56" rx="1.65" ry="0.93" fill="#dc2626"/><ellipse cx="79.78" cy="354.07" rx="1.65" ry="0.93" fill="#dc2626"/><ellipse cx="84.44" cy="355.76" rx="1.65" ry="0.93" fill="#dc2626"/><ellipse cx="89.1" cy="357.53" rx="1.65" ry="0.93" fill="#dc2626"/><ellipse cx="93.76" cy="359.27" rx="1.65" ry="0.93" fill="#dc2626"/><ellipse cx="98.42" cy="360.9" rx="1.65" ry="0.93" fill="#dc2626"/><ellipse cx="103.08" cy="362.31" rx="1.65" ry="0.93" fill="#dc2626"/><ellipse cx="107.74" cy="363.45" rx="1.65" ry="0.93" fill="#dc2626"/><ellipse cx="112.4" cy="364.24" rx="1.65" ry="0.93" fill="#dc2626"/><ellipse cx="117.06" cy="364.65" rx="1.65" ry="0.93" fill="#dc2626"/><ellipse cx="121.72" cy="364.67" rx="1.65" ry="0.93" fill="#dc2626"/><ellipse cx="126.38" cy="364.31" rx="1.65" ry="0.93" fill="#dc2626"/><ellipse cx="131.04" cy="363.58" rx="1.65" ry="0.93" fill="#dc2626"/><ellipse cx="135.7" cy="362.55" rx="1.65" ry="0.93" fill="#dc2626"/><ellipse cx="140.36" cy="361.27" rx="1.65" ry="0.93" fill="#dc2626"/><ellipse cx="145.02" cy="359.83" rx="1.65" ry="0.93" fill="#dc2626"/><ellipse cx="149.68" cy="358.31" rx="1.65" ry="0.93" fill="#dc2626"/><ellipse cx="154.34" cy="356.82" rx="1.65" ry="0.93" fill="#dc2626"/><ellipse cx="159" cy="355.45" rx="1.65" ry="0.93" fill="#dc2626"/><ellipse cx="163.66" cy="354.28" rx="1.65" ry="0.93" fill="#dc2626"/><ellipse cx="168.32" cy="353.39" rx="1.65" ry="0.93" fill="#dc2626"/><ellipse cx="172.98" cy="352.83" rx="1.65" ry="0.93" fill="#dc2626"/><ellipse cx="177.64" cy="352.61" rx="1.65" ry="0.93" fill="#dc2626"/><ellipse cx="182.3" cy="352.69" rx="1.65" ry="0.93" fill="#dc2626"/><ellipse cx="186.96" cy="352.99" rx="1.65" ry="0.93" fill="#dc2626"/><ellipse cx="191.62" cy="353.34" rx="1.65" ry="0.93" fill="#dc2626"/><ellipse cx="196.28" cy="353.5" rx="1.65" ry="0.93" fill="#dc2626"/><ellipse cx="200.94" cy="353.12" rx="1.65" ry="0.93" fill="#dc2626"/><ellipse cx="205.6" cy="351.76" rx="1.65" ry="0.93" fill="#dc2626"/><path d="M41.9 345.19L43.4 344.77L44.9 344.4L46.4 344.09L47.9 343.84L49.4 343.64L50.9 343.5L52.4 343.41L53.9 343.37L55.4 343.38L56.9 343.43L58.4 343.53L59.9 343.67L61.4 343.85L62.9 344.06L64.4 344.3L65.9 344.58L67.4 344.88L68.9 345.21L70.4 345.56L71.9 345.93L73.4 346.31L74.9 346.7L76.4 347.11L77.9 347.52L79.4 347.93L80.9 348.34L82.4 348.75L83.9 349.16L85.4 349.56L86.9 349.95L88.4 350.33L89.9 350.69L91.4 351.04L92.9 351.36L94.4 351.67L95.9 351.96L97.4 352.22L98.9 352.45L100.4 352.67L101.9 352.85L103.4 353L104.9 353.13L106.4 353.22L107.9 353.29L109.4 353.32L110.9 353.33L112.4 353.3L113.9 353.24L115.4 353.15L116.9 353.04L118.4 352.89L119.9 352.72L121.4 352.51L122.9 352.29L124.4 352.03L125.9 351.76L127.4 351.46L128.9 351.14L130.4 350.8L131.9 350.45L133.4 350.08L134.9 349.69L136.4 349.3L137.9 348.9L139.4 348.49L140.9 348.08L142.4 347.66L143.9 347.25L145.4 346.84L146.9 346.43L148.4 346.04L149.9 345.65L151.4 345.27L152.9 344.91L154.4 344.57L155.9 344.24L157.4 343.94L158.9 343.66L160.4 343.4L161.9 343.17L163.4 342.96L164.9 342.79L166.4 342.64L167.9 342.53L169.4 342.44L170.9 342.39L172.4 342.37L173.9 342.38L175.4 342.41L176.9 342.48L178.4 342.57L179.9 342.69L181.4 342.83L182.9 342.99L184.4 343.17L185.9 343.37L187.4 343.57L188.9 343.77L190.4 343.97L191.9 344.16L193.4 344.34L194.9 344.5L196.4 344.62L197.9 344.71L199.4 344.74L200.9 344.72L202.4 344.62L203.9 344.44L205.4 344.16" stroke="#e8482e" stroke-width="1.6" fill="none"/><path d="M42.5 342.85L43.06 344.45L44.42 345.01L43.06 345.57L42.5 347.17L41.94 345.57L40.58 345.01L41.94 344.45Z" fill="#e8482e"/><path d="M47.16 341.8L47.72 343.4L49.08 343.96L47.72 344.52L47.16 346.12L46.6 344.52L45.24 343.96L46.6 343.4Z" fill="#e8482e"/><path d="M51.82 341.28L52.38 342.88L53.74 343.44L52.38 344L51.82 345.6L51.26 344L49.9 343.44L51.26 342.88Z" fill="#e8482e"/><path d="M56.48 341.25L57.04 342.85L58.4 343.41L57.04 343.97L56.48 345.57L55.92 343.97L54.56 343.41L55.92 342.85Z" fill="#e8482e"/><path d="M61.14 341.65L61.7 343.25L63.06 343.81L61.7 344.37L61.14 345.97L60.58 344.37L59.22 343.81L60.58 343.25Z" fill="#e8482e"/><path d="M65.8 342.4L66.36 344L67.72 344.56L66.36 345.12L65.8 346.72L65.24 345.12L63.88 344.56L65.24 344Z" fill="#e8482e"/><path d="M70.46 343.41L71.02 345.01L72.38 345.57L71.02 346.13L70.46 347.73L69.9 346.13L68.54 345.57L69.9 345.01Z" fill="#e8482e"/><path d="M75.12 344.6L75.68 346.2L77.04 346.76L75.68 347.32L75.12 348.92L74.56 347.32L73.2 346.76L74.56 346.2Z" fill="#e8482e"/><path d="M79.78 345.87L80.34 347.47L81.7 348.03L80.34 348.59L79.78 350.19L79.22 348.59L77.86 348.03L79.22 347.47Z" fill="#e8482e"/><path d="M84.44 347.15L85 348.75L86.36 349.31L85 349.87L84.44 351.47L83.88 349.87L82.52 349.31L83.88 348.75Z" fill="#e8482e"/><path d="M89.1 348.34L89.66 349.94L91.02 350.5L89.66 351.06L89.1 352.66L88.54 351.06L87.18 350.5L88.54 349.94Z" fill="#e8482e"/><path d="M93.76 349.38L94.32 350.98L95.68 351.54L94.32 352.1L93.76 353.7L93.2 352.1L91.84 351.54L93.2 350.98Z" fill="#e8482e"/><path d="M98.42 350.22L98.98 351.82L100.34 352.38L98.98 352.94L98.42 354.54L97.86 352.94L96.5 352.38L97.86 351.82Z" fill="#e8482e"/><path d="M103.08 350.81L103.64 352.41L105 352.97L103.64 353.53L103.08 355.13L102.52 353.53L101.16 352.97L102.52 352.41Z" fill="#e8482e"/><path d="M107.74 351.12L108.3 352.72L109.66 353.28L108.3 353.84L107.74 355.44L107.18 353.84L105.82 353.28L107.18 352.72Z" fill="#e8482e"/><path d="M112.4 351.14L112.96 352.74L114.32 353.3L112.96 353.86L112.4 355.46L111.84 353.86L110.48 353.3L111.84 352.74Z" fill="#e8482e"/><path d="M117.06 350.86L117.62 352.46L118.98 353.02L117.62 353.58L117.06 355.18L116.5 353.58L115.14 353.02L116.5 352.46Z" fill="#e8482e"/><path d="M121.72 350.31L122.28 351.91L123.64 352.47L122.28 353.03L121.72 354.63L121.16 353.03L119.8 352.47L121.16 351.91Z" fill="#e8482e"/><path d="M126.38 349.5L126.94 351.1L128.3 351.66L126.94 352.22L126.38 353.82L125.82 352.22L124.46 351.66L125.82 351.1Z" fill="#e8482e"/><path d="M131.04 348.49L131.6 350.09L132.96 350.65L131.6 351.21L131.04 352.81L130.48 351.21L129.12 350.65L130.48 350.09Z" fill="#e8482e"/><path d="M135.7 347.33L136.26 348.93L137.62 349.49L136.26 350.05L135.7 351.65L135.14 350.05L133.78 349.49L135.14 348.93Z" fill="#e8482e"/><path d="M140.36 346.07L140.92 347.67L142.28 348.23L140.92 348.79L140.36 350.39L139.8 348.79L138.44 348.23L139.8 347.67Z" fill="#e8482e"/><path d="M145.02 344.78L145.58 346.38L146.94 346.94L145.58 347.5L145.02 349.1L144.46 347.5L143.1 346.94L144.46 346.38Z" fill="#e8482e"/><path d="M149.68 343.54L150.24 345.14L151.6 345.7L150.24 346.26L149.68 347.86L149.12 346.26L147.76 345.7L149.12 345.14Z" fill="#e8482e"/><path d="M154.34 342.42L154.9 344.02L156.26 344.58L154.9 345.14L154.34 346.74L153.78 345.14L152.42 344.58L153.78 344.02Z" fill="#e8482e"/><path d="M159 341.48L159.56 343.08L160.92 343.64L159.56 344.2L159 345.8L158.44 344.2L157.08 343.64L158.44 343.08Z" fill="#e8482e"/><path d="M163.66 340.77L164.22 342.37L165.58 342.93L164.22 343.49L163.66 345.09L163.1 343.49L161.74 342.93L163.1 342.37Z" fill="#e8482e"/><path d="M168.32 340.34L168.88 341.94L170.24 342.5L168.88 343.06L168.32 344.66L167.76 343.06L166.4 342.5L167.76 341.94Z" fill="#e8482e"/><path d="M172.98 340.21L173.54 341.81L174.9 342.37L173.54 342.93L172.98 344.53L172.42 342.93L171.06 342.37L172.42 341.81Z" fill="#e8482e"/><path d="M177.64 340.36L178.2 341.96L179.56 342.52L178.2 343.08L177.64 344.68L177.08 343.08L175.72 342.52L177.08 341.96Z" fill="#e8482e"/><path d="M182.3 340.77L182.86 342.37L184.22 342.93L182.86 343.49L182.3 345.09L181.74 343.49L180.38 342.93L181.74 342.37Z" fill="#e8482e"/><path d="M186.96 341.35L187.52 342.95L188.88 343.51L187.52 344.07L186.96 345.67L186.4 344.07L185.04 343.51L186.4 342.95Z" fill="#e8482e"/><path d="M191.62 341.97L192.18 343.57L193.54 344.13L192.18 344.69L191.62 346.29L191.06 344.69L189.7 344.13L191.06 343.57Z" fill="#e8482e"/><path d="M196.28 342.45L196.84 344.05L198.2 344.61L196.84 345.17L196.28 346.77L195.72 345.17L194.36 344.61L195.72 344.05Z" fill="#e8482e"/><path d="M200.94 342.56L201.5 344.16L202.86 344.72L201.5 345.28L200.94 346.88L200.38 345.28L199.02 344.72L200.38 344.16Z" fill="#e8482e"/><path d="M205.6 341.96L206.16 343.56L207.52 344.12L206.16 344.68L205.6 346.28L205.04 344.68L203.68 344.12L205.04 343.56Z" fill="#e8482e"/><path d="M41.9 338.1L43.4 337.44L44.9 336.92L46.4 336.51L47.9 336.21L49.4 336L50.9 335.87L52.4 335.8L53.9 335.8L55.4 335.85L56.9 335.94L58.4 336.07L59.9 336.22L61.4 336.39L62.9 336.58L64.4 336.78L65.9 336.98L67.4 337.18L68.9 337.37L70.4 337.56L71.9 337.74L73.4 337.9L74.9 338.04L76.4 338.17L77.9 338.27L79.4 338.36L80.9 338.42L82.4 338.46L83.9 338.47L85.4 338.46L86.9 338.43L88.4 338.37L89.9 338.28L91.4 338.18L92.9 338.05L94.4 337.89L95.9 337.72L97.4 337.53L98.9 337.32L100.4 337.09L101.9 336.84L103.4 336.58L104.9 336.3L106.4 336.02L107.9 335.72L109.4 335.41L110.9 335.1L112.4 334.77L113.9 334.45L115.4 334.12L116.9 333.79L118.4 333.46L119.9 333.13L121.4 332.8L122.9 332.47L124.4 332.15L125.9 331.84L127.4 331.53L128.9 331.23L130.4 330.94L131.9 330.66L133.4 330.39L134.9 330.13L136.4 329.88L137.9 329.64L139.4 329.42L140.9 329.21L142.4 329.02L143.9 328.84L145.4 328.67L146.9 328.51L148.4 328.37L149.9 328.24L151.4 328.13L152.9 328.03L154.4 327.94L155.9 327.87L157.4 327.81L158.9 327.76L160.4 327.72L161.9 327.69L163.4 327.67L164.9 327.66L166.4 327.67L167.9 327.68L169.4 327.7L170.9 327.72L172.4 327.76L173.9 327.8L175.4 327.85L176.9 327.9L178.4 327.97L179.9 328.03L181.4 328.11L182.9 328.19L184.4 328.28L185.9 328.37L187.4 328.48L188.9 328.59L190.4 328.71L191.9 328.84L193.4 328.99L194.9 329.15L196.4 329.33L197.9 329.53L199.4 329.74L200.9 329.99L202.4 330.26L203.9 330.56L205.4 330.9" stroke="#f06a22" stroke-width="1.8" fill="none"/><path d="M42.5 335.61L44.45 337.82L42.5 340.03L40.55 337.82Z" fill="#f06a22"/><path d="M47.16 334.14L49.12 336.35L47.16 338.56L45.21 336.35Z" fill="#f06a22"/><path d="M51.82 333.61L53.77 335.82L51.82 338.03L49.87 335.82Z" fill="#f06a22"/><path d="M56.48 333.7L58.43 335.91L56.48 338.12L54.52 335.91Z" fill="#f06a22"/><path d="M61.14 334.15L63.09 336.36L61.14 338.57L59.19 336.36Z" fill="#f06a22"/><path d="M65.8 334.76L67.75 336.97L65.8 339.18L63.84 336.97Z" fill="#f06a22"/><path d="M70.46 335.36L72.41 337.57L70.46 339.78L68.5 337.57Z" fill="#f06a22"/><path d="M75.12 335.85L77.07 338.06L75.12 340.27L73.16 338.06Z" fill="#f06a22"/><path d="M79.78 336.17L81.73 338.38L79.78 340.59L77.83 338.38Z" fill="#f06a22"/><path d="M84.44 336.26L86.39 338.47L84.44 340.68L82.48 338.47Z" fill="#f06a22"/><path d="M89.1 336.12L91.05 338.33L89.1 340.54L87.14 338.33Z" fill="#f06a22"/><path d="M93.76 335.75L95.71 337.96L93.76 340.17L91.8 337.96Z" fill="#f06a22"/><path d="M98.42 335.18L100.37 337.39L98.42 339.6L96.46 337.39Z" fill="#f06a22"/><path d="M103.08 334.43L105.03 336.64L103.08 338.85L101.12 336.64Z" fill="#f06a22"/><path d="M107.74 333.54L109.69 335.75L107.74 337.96L105.78 335.75Z" fill="#f06a22"/><path d="M112.4 332.56L114.36 334.77L112.4 336.98L110.45 334.77Z" fill="#f06a22"/><path d="M117.06 331.54L119.02 333.75L117.06 335.96L115.11 333.75Z" fill="#f06a22"/><path d="M121.72 330.52L123.67 332.73L121.72 334.94L119.77 332.73Z" fill="#f06a22"/><path d="M126.38 329.53L128.34 331.74L126.38 333.95L124.42 331.74Z" fill="#f06a22"/><path d="M131.04 328.61L133 330.82L131.04 333.03L129.08 330.82Z" fill="#f06a22"/><path d="M135.7 327.78L137.66 329.99L135.7 332.2L133.74 329.99Z" fill="#f06a22"/><path d="M140.36 327.08L142.31 329.29L140.36 331.5L138.4 329.29Z" fill="#f06a22"/><path d="M145.02 326.5L146.98 328.71L145.02 330.92L143.06 328.71Z" fill="#f06a22"/><path d="M149.68 326.05L151.63 328.26L149.68 330.47L147.72 328.26Z" fill="#f06a22"/><path d="M154.34 325.74L156.3 327.95L154.34 330.16L152.38 327.95Z" fill="#f06a22"/><path d="M159 325.54L160.96 327.75L159 329.96L157.04 327.75Z" fill="#f06a22"/><path d="M163.66 325.46L165.62 327.67L163.66 329.88L161.7 327.67Z" fill="#f06a22"/><path d="M168.32 325.47L170.28 327.68L168.32 329.89L166.36 327.68Z" fill="#f06a22"/><path d="M172.98 325.56L174.94 327.77L172.98 329.98L171.02 327.77Z" fill="#f06a22"/><path d="M177.64 325.72L179.6 327.93L177.64 330.14L175.69 327.93Z" fill="#f06a22"/><path d="M182.3 325.95L184.26 328.16L182.3 330.37L180.34 328.16Z" fill="#f06a22"/><path d="M186.96 326.24L188.92 328.45L186.96 330.66L185 328.45Z" fill="#f06a22"/><path d="M191.62 326.61L193.58 328.82L191.62 331.03L189.66 328.82Z" fill="#f06a22"/><path d="M196.28 327.1L198.24 329.31L196.28 331.52L194.32 329.31Z" fill="#f06a22"/><path d="M200.94 327.78L202.9 329.99L200.94 332.2L198.98 329.99Z" fill="#f06a22"/><path d="M205.6 328.73L207.56 330.94L205.6 333.15L203.64 330.94Z" fill="#f06a22"/><path d="M41.9 329.29L43.4 328.8L44.9 328.34L46.4 327.9L47.9 327.47L49.4 327.06L50.9 326.66L52.4 326.26L53.9 325.87L55.4 325.47L56.9 325.08L58.4 324.69L59.9 324.29L61.4 323.89L62.9 323.48L64.4 323.07L65.9 322.65L67.4 322.22L68.9 321.78L70.4 321.34L71.9 320.88L73.4 320.42L74.9 319.95L76.4 319.47L77.9 318.98L79.4 318.49L80.9 317.98L82.4 317.48L83.9 316.96L85.4 316.44L86.9 315.92L88.4 315.39L89.9 314.87L91.4 314.34L92.9 313.8L94.4 313.27L95.9 312.74L97.4 312.22L98.9 311.69L100.4 311.17L101.9 310.65L103.4 310.14L104.9 309.64L106.4 309.14L107.9 308.65L109.4 308.17L110.9 307.7L112.4 307.24L113.9 306.8L115.4 306.36L116.9 305.93L118.4 305.52L119.9 305.12L121.4 304.74L122.9 304.37L124.4 304.01L125.9 303.67L127.4 303.35L128.9 303.04L130.4 302.74L131.9 302.46L133.4 302.2L134.9 301.95L136.4 301.71L137.9 301.5L139.4 301.29L140.9 301.1L142.4 300.93L143.9 300.77L145.4 300.62L146.9 300.49L148.4 300.37L149.9 300.27L151.4 300.18L152.9 300.09L154.4 300.03L155.9 299.97L157.4 299.92L158.9 299.88L160.4 299.86L161.9 299.84L163.4 299.83L164.9 299.83L166.4 299.84L167.9 299.86L169.4 299.89L170.9 299.92L172.4 299.96L173.9 300.01L175.4 300.07L176.9 300.13L178.4 300.21L179.9 300.29L181.4 300.38L182.9 300.48L184.4 300.59L185.9 300.72L187.4 300.85L188.9 301L190.4 301.17L191.9 301.35L193.4 301.55L194.9 301.77L196.4 302.01L197.9 302.28L199.4 302.58L200.9 302.91L202.4 303.28L203.9 303.68L205.4 304.13" stroke="#f49d2a" stroke-width="1.9" fill="none"/><path d="M42.5 326.96L44.45 330.45L40.55 330.45Z" fill="#f49d2a"/><path d="M47.16 325.56L49.12 329.04L45.21 329.04Z" fill="#f49d2a"/><path d="M51.82 324.29L53.77 327.77L49.87 327.77Z" fill="#f49d2a"/><path d="M56.48 323.07L58.43 326.55L54.52 326.55Z" fill="#f49d2a"/><path d="M61.14 321.84L63.09 325.32L59.19 325.32Z" fill="#f49d2a"/><path d="M65.8 320.55L67.75 324.04L63.84 324.04Z" fill="#f49d2a"/><path d="M70.46 319.19L72.41 322.68L68.5 322.68Z" fill="#f49d2a"/><path d="M75.12 317.75L77.07 321.24L73.16 321.24Z" fill="#f49d2a"/><path d="M79.78 316.23L81.73 319.72L77.83 319.72Z" fill="#f49d2a"/><path d="M84.44 314.65L86.39 318.14L82.48 318.14Z" fill="#f49d2a"/><path d="M89.1 313.02L91.05 316.51L87.14 316.51Z" fill="#f49d2a"/><path d="M93.76 311.37L95.71 314.86L91.8 314.86Z" fill="#f49d2a"/><path d="M98.42 309.73L100.37 313.22L96.46 313.22Z" fill="#f49d2a"/><path d="M103.08 308.13L105.03 311.61L101.12 311.61Z" fill="#f49d2a"/><path d="M107.74 306.58L109.69 310.07L105.78 310.07Z" fill="#f49d2a"/><path d="M112.4 305.12L114.36 308.6L110.45 308.6Z" fill="#f49d2a"/><path d="M117.06 303.77L119.02 307.25L115.11 307.25Z" fill="#f49d2a"/><path d="M121.72 302.54L123.67 306.02L119.77 306.02Z" fill="#f49d2a"/><path d="M126.38 301.44L128.34 304.93L124.42 304.93Z" fill="#f49d2a"/><path d="M131.04 300.49L133 303.98L129.08 303.98Z" fill="#f49d2a"/><path d="M135.7 299.7L137.66 303.18L133.74 303.18Z" fill="#f49d2a"/><path d="M140.36 299.04L142.31 302.53L138.4 302.53Z" fill="#f49d2a"/><path d="M145.02 298.53L146.98 302.02L143.06 302.02Z" fill="#f49d2a"/><path d="M149.68 298.16L151.63 301.64L147.72 301.64Z" fill="#f49d2a"/><path d="M154.34 297.9L156.3 301.39L152.38 301.39Z" fill="#f49d2a"/><path d="M159 297.76L160.96 301.24L157.04 301.24Z" fill="#f49d2a"/><path d="M163.66 297.71L165.62 301.19L161.7 301.19Z" fill="#f49d2a"/><path d="M168.32 297.74L170.28 301.23L166.36 301.23Z" fill="#f49d2a"/><path d="M172.98 297.85L174.94 301.34L171.02 301.34Z" fill="#f49d2a"/><path d="M177.64 298.04L179.6 301.53L175.69 301.53Z" fill="#f49d2a"/><path d="M182.3 298.31L184.26 301.8L180.34 301.8Z" fill="#f49d2a"/><path d="M186.96 298.69L188.92 302.17L185 302.17Z" fill="#f49d2a"/><path d="M191.62 299.19L193.58 302.67L189.66 302.67Z" fill="#f49d2a"/><path d="M196.28 299.87L198.24 303.35L194.32 303.35Z" fill="#f49d2a"/><path d="M200.94 300.8L202.9 304.28L198.98 304.28Z" fill="#f49d2a"/><path d="M205.6 302.07L207.56 305.55L203.64 305.55Z" fill="#f49d2a"/><path d="M41.9 305.86L43.4 304.79L44.9 303.67L46.4 302.53L47.9 301.36L49.4 300.17L50.9 298.96L52.4 297.75L53.9 296.53L55.4 295.31L56.9 294.1L58.4 292.91L59.9 291.72L61.4 290.56L62.9 289.41L64.4 288.29L65.9 287.2L67.4 286.13L68.9 285.1L70.4 284.1L71.9 283.14L73.4 282.21L74.9 281.32L76.4 280.47L77.9 279.66L79.4 278.89L80.9 278.16L82.4 277.47L83.9 276.82L85.4 276.22L86.9 275.65L88.4 275.13L89.9 274.65L91.4 274.21L92.9 273.81L94.4 273.45L95.9 273.13L97.4 272.84L98.9 272.6L100.4 272.39L101.9 272.21L103.4 272.07L104.9 271.96L106.4 271.89L107.9 271.84L109.4 271.83L110.9 271.84L112.4 271.88L113.9 271.95L115.4 272.04L116.9 272.15L118.4 272.29L119.9 272.45L121.4 272.62L122.9 272.82L124.4 273.03L125.9 273.26L127.4 273.51L128.9 273.77L130.4 274.04L131.9 274.32L133.4 274.61L134.9 274.92L136.4 275.23L137.9 275.55L139.4 275.88L140.9 276.21L142.4 276.55L143.9 276.89L145.4 277.24L146.9 277.59L148.4 277.94L149.9 278.3L151.4 278.66L152.9 279.02L154.4 279.38L155.9 279.73L157.4 280.09L158.9 280.45L160.4 280.81L161.9 281.17L163.4 281.53L164.9 281.88L166.4 282.24L167.9 282.59L169.4 282.95L170.9 283.3L172.4 283.65L173.9 284L175.4 284.35L176.9 284.69L178.4 285.04L179.9 285.39L181.4 285.73L182.9 286.07L184.4 286.42L185.9 286.76L187.4 287.1L188.9 287.44L190.4 287.78L191.9 288.12L193.4 288.46L194.9 288.8L196.4 289.13L197.9 289.47L199.4 289.8L200.9 290.13L202.4 290.45L203.9 290.78L205.4 291.1" stroke="#f0c21a" stroke-width="1.9" fill="none"/><ellipse cx="42.5" cy="305.43" rx="1.7" ry="1.7" fill="#f0c21a"/><ellipse cx="47.16" cy="301.94" rx="1.7" ry="1.7" fill="#f0c21a"/><ellipse cx="51.82" cy="298.22" rx="1.7" ry="1.7" fill="#f0c21a"/><ellipse cx="56.48" cy="294.44" rx="1.7" ry="1.7" fill="#f0c21a"/><ellipse cx="61.14" cy="290.76" rx="1.7" ry="1.7" fill="#f0c21a"/><ellipse cx="65.8" cy="287.27" rx="1.7" ry="1.7" fill="#f0c21a"/><ellipse cx="70.46" cy="284.06" rx="1.7" ry="1.7" fill="#f0c21a"/><ellipse cx="75.12" cy="281.19" rx="1.7" ry="1.7" fill="#f0c21a"/><ellipse cx="79.78" cy="278.7" rx="1.7" ry="1.7" fill="#f0c21a"/><ellipse cx="84.44" cy="276.6" rx="1.7" ry="1.7" fill="#f0c21a"/><ellipse cx="89.1" cy="274.9" rx="1.7" ry="1.7" fill="#f0c21a"/><ellipse cx="93.76" cy="273.6" rx="1.7" ry="1.7" fill="#f0c21a"/><ellipse cx="98.42" cy="272.67" rx="1.7" ry="1.7" fill="#f0c21a"/><ellipse cx="103.08" cy="272.1" rx="1.7" ry="1.7" fill="#f0c21a"/><ellipse cx="107.74" cy="271.85" rx="1.7" ry="1.7" fill="#f0c21a"/><ellipse cx="112.4" cy="271.88" rx="1.7" ry="1.7" fill="#f0c21a"/><ellipse cx="117.06" cy="272.17" rx="1.7" ry="1.7" fill="#f0c21a"/><ellipse cx="121.72" cy="272.66" rx="1.7" ry="1.7" fill="#f0c21a"/><ellipse cx="126.38" cy="273.34" rx="1.7" ry="1.7" fill="#f0c21a"/><ellipse cx="131.04" cy="274.16" rx="1.7" ry="1.7" fill="#f0c21a"/><ellipse cx="135.7" cy="275.08" rx="1.7" ry="1.7" fill="#f0c21a"/><ellipse cx="140.36" cy="276.09" rx="1.7" ry="1.7" fill="#f0c21a"/><ellipse cx="145.02" cy="277.15" rx="1.7" ry="1.7" fill="#f0c21a"/><ellipse cx="149.68" cy="278.25" rx="1.7" ry="1.7" fill="#f0c21a"/><ellipse cx="154.34" cy="279.36" rx="1.7" ry="1.7" fill="#f0c21a"/><ellipse cx="159" cy="280.48" rx="1.7" ry="1.7" fill="#f0c21a"/><ellipse cx="163.66" cy="281.59" rx="1.7" ry="1.7" fill="#f0c21a"/><ellipse cx="168.32" cy="282.69" rx="1.7" ry="1.7" fill="#f0c21a"/><ellipse cx="172.98" cy="283.78" rx="1.7" ry="1.7" fill="#f0c21a"/><ellipse cx="177.64" cy="284.87" rx="1.7" ry="1.7" fill="#f0c21a"/><ellipse cx="182.3" cy="285.94" rx="1.7" ry="1.7" fill="#f0c21a"/><ellipse cx="186.96" cy="287" rx="1.7" ry="1.7" fill="#f0c21a"/><ellipse cx="191.62" cy="288.06" rx="1.7" ry="1.7" fill="#f0c21a"/><ellipse cx="196.28" cy="289.1" rx="1.7" ry="1.7" fill="#f0c21a"/><ellipse cx="200.94" cy="290.14" rx="1.7" ry="1.7" fill="#f0c21a"/><ellipse cx="205.6" cy="291.14" rx="1.7" ry="1.7" fill="#f0c21a"/></g><rect x="41.9" y="258.7" width="162.4" height="130.7" fill="none" stroke="#1c1c1c" stroke-width="1.5"/><path d="M41.9 378.59h2" stroke="#1c1c1c" stroke-width="1"/><path d="M41.9 368.28h3.2" stroke="#1c1c1c" stroke-width="1.2"/><text x="38.3" y="371.78" font-size="10.2" font-family="Liberation Sans, Arial, sans-serif" font-weight="bold" fill="#141414" stroke="#141414" stroke-width="0.45" text-anchor="end" textLength="11.2" lengthAdjust="spacingAndGlyphs">15</text><path d="M41.9 357.97h2" stroke="#1c1c1c" stroke-width="1"/><path d="M41.9 347.66h3.2" stroke="#1c1c1c" stroke-width="1.2"/><text x="38.3" y="351.16" font-size="10.2" font-family="Liberation Sans, Arial, sans-serif" font-weight="bold" fill="#141414" stroke="#141414" stroke-width="0.45" text-anchor="end" textLength="11.2" lengthAdjust="spacingAndGlyphs">30</text><path d="M41.9 337.35h2" stroke="#1c1c1c" stroke-width="1"/><path d="M41.9 327.04h3.2" stroke="#1c1c1c" stroke-width="1.2"/><text x="38.3" y="330.54" font-size="10.2" font-family="Liberation Sans, Arial, sans-serif" font-weight="bold" fill="#141414" stroke="#141414" stroke-width="0.45" text-anchor="end" textLength="11.2" lengthAdjust="spacingAndGlyphs">45</text><path d="M41.9 316.73h2" stroke="#1c1c1c" stroke-width="1"/><path d="M41.9 306.42h3.2" stroke="#1c1c1c" stroke-width="1.2"/><text x="38.3" y="309.92" font-size="10.2" font-family="Liberation Sans, Arial, sans-serif" font-weight="bold" fill="#141414" stroke="#141414" stroke-width="0.45" text-anchor="end" textLength="11.2" lengthAdjust="spacingAndGlyphs">60</text><path d="M41.9 296.11h2" stroke="#1c1c1c" stroke-width="1"/><path d="M41.9 285.8h3.2" stroke="#1c1c1c" stroke-width="1.2"/><text x="38.3" y="289.3" font-size="10.2" font-family="Liberation Sans, Arial, sans-serif" font-weight="bold" fill="#141414" stroke="#141414" stroke-width="0.45" text-anchor="end" textLength="11.2" lengthAdjust="spacingAndGlyphs">75</text><path d="M41.9 275.49h2" stroke="#1c1c1c" stroke-width="1"/><path d="M41.9 265.18h3.2" stroke="#1c1c1c" stroke-width="1.2"/><text x="38.3" y="268.68" font-size="10.2" font-family="Liberation Sans, Arial, sans-serif" font-weight="bold" fill="#141414" stroke="#141414" stroke-width="0.45" text-anchor="end" textLength="11.2" lengthAdjust="spacingAndGlyphs">90</text><text x="41.9" y="401.7" font-size="10.4" font-family="Liberation Sans, Arial, sans-serif" font-weight="bold" fill="#141414" stroke="#141414" stroke-width="0.45" text-anchor="middle" textLength="18" lengthAdjust="spacingAndGlyphs">450</text><path d="M53.55 389.4v-2" stroke="#1c1c1c" stroke-width="1"/><path d="M65.2 389.4v-3.2" stroke="#1c1c1c" stroke-width="1.2"/><text x="65.2" y="401.7" font-size="10.4" font-family="Liberation Sans, Arial, sans-serif" font-weight="bold" fill="#141414" stroke="#141414" stroke-width="0.45" text-anchor="middle" textLength="18" lengthAdjust="spacingAndGlyphs">500</text><path d="M76.85 389.4v-2" stroke="#1c1c1c" stroke-width="1"/><path d="M88.5 389.4v-3.2" stroke="#1c1c1c" stroke-width="1.2"/><text x="88.5" y="401.7" font-size="10.4" font-family="Liberation Sans, Arial, sans-serif" font-weight="bold" fill="#141414" stroke="#141414" stroke-width="0.45" text-anchor="middle" textLength="18" lengthAdjust="spacingAndGlyphs">550</text><path d="M100.15 389.4v-2" stroke="#1c1c1c" stroke-width="1"/><path d="M111.8 389.4v-3.2" stroke="#1c1c1c" stroke-width="1.2"/><text x="111.8" y="401.7" font-size="10.4" font-family="Liberation Sans, Arial, sans-serif" font-weight="bold" fill="#141414" stroke="#141414" stroke-width="0.45" text-anchor="middle" textLength="18" lengthAdjust="spacingAndGlyphs">600</text><path d="M123.45 389.4v-2" stroke="#1c1c1c" stroke-width="1"/><path d="M135.1 389.4v-3.2" stroke="#1c1c1c" stroke-width="1.2"/><text x="135.1" y="401.7" font-size="10.4" font-family="Liberation Sans, Arial, sans-serif" font-weight="bold" fill="#141414" stroke="#141414" stroke-width="0.45" text-anchor="middle" textLength="18" lengthAdjust="spacingAndGlyphs">650</text><path d="M146.75 389.4v-2" stroke="#1c1c1c" stroke-width="1"/><path d="M158.4 389.4v-3.2" stroke="#1c1c1c" stroke-width="1.2"/><text x="158.4" y="401.7" font-size="10.4" font-family="Liberation Sans, Arial, sans-serif" font-weight="bold" fill="#141414" stroke="#141414" stroke-width="0.45" text-anchor="middle" textLength="18" lengthAdjust="spacingAndGlyphs">700</text><path d="M170.05 389.4v-2" stroke="#1c1c1c" stroke-width="1"/><path d="M181.7 389.4v-3.2" stroke="#1c1c1c" stroke-width="1.2"/><text x="181.7" y="401.7" font-size="10.4" font-family="Liberation Sans, Arial, sans-serif" font-weight="bold" fill="#141414" stroke="#141414" stroke-width="0.45" text-anchor="middle" textLength="18" lengthAdjust="spacingAndGlyphs">750</text><path d="M193.35 389.4v-2" stroke="#1c1c1c" stroke-width="1"/><text x="205" y="401.7" font-size="10.4" font-family="Liberation Sans, Arial, sans-serif" font-weight="bold" fill="#141414" stroke="#141414" stroke-width="0.45" text-anchor="middle" textLength="18" lengthAdjust="spacingAndGlyphs">800</text><text transform="translate(23.9 324.6) rotate(-90)" x="0" y="0" font-size="11" font-family="Liberation Sans, Arial, sans-serif" font-weight="bold" fill="#141414" stroke="#141414" stroke-width="0.45" text-anchor="middle" textLength="94" lengthAdjust="spacingAndGlyphs">Transmittance (%)</text><text x="78.2" y="413.3" font-size="11" font-family="Liberation Sans, Arial, sans-serif" font-weight="bold" fill="#141414" stroke="#141414" stroke-width="0.45" textLength="88.3" lengthAdjust="spacingAndGlyphs">Wavelength (nm)</text><path d="M206.7 263.3H222.5" stroke="#f0c21a" stroke-width="2.8"/><ellipse cx="214.6" cy="263.3" rx="3.77" ry="2.9" fill="#f0c21a"/><text x="225.5" y="266.2" font-size="8.2" font-family="Liberation Sans, Arial, sans-serif" font-weight="bold" fill="#141414" stroke="#141414" stroke-width="0.4" textLength="13.82" lengthAdjust="spacingAndGlyphs">18 s</text><path d="M206.7 278.5H222.5" stroke="#f49d2a" stroke-width="2.8"/><path d="M214.6 274.88L218.94 280.82L210.26 280.82Z" fill="#f49d2a"/><text x="225.5" y="281.4" font-size="8.2" font-family="Liberation Sans, Arial, sans-serif" font-weight="bold" fill="#141414" stroke="#141414" stroke-width="0.4" textLength="13.82" lengthAdjust="spacingAndGlyphs">16 s</text><path d="M206.7 293.7H222.5" stroke="#f06a22" stroke-width="2.8"/><path d="M214.6 289.93L218.94 293.7L214.6 297.47L210.26 293.7Z" fill="#f06a22"/><text x="225.5" y="296.6" font-size="8.2" font-family="Liberation Sans, Arial, sans-serif" font-weight="bold" fill="#141414" stroke="#141414" stroke-width="0.4" textLength="13.82" lengthAdjust="spacingAndGlyphs">14 s</text><path d="M206.7 308.9H222.5" stroke="#e8482e" stroke-width="2.8"/><path d="M214.6 304.98L215.92 307.88L219.12 308.9L215.92 309.91L214.6 312.81L213.28 309.91L210.08 308.9L213.28 307.88Z" fill="#e8482e"/><text x="225.5" y="311.8" font-size="8.2" font-family="Liberation Sans, Arial, sans-serif" font-weight="bold" fill="#141414" stroke="#141414" stroke-width="0.4" textLength="13.82" lengthAdjust="spacingAndGlyphs">12 s</text><path d="M206.7 324.1H222.5" stroke="#dc2626" stroke-width="2.8"/><ellipse cx="214.6" cy="324.1" rx="4.15" ry="1.8" fill="#dc2626"/><text x="225.5" y="327" font-size="8.2" font-family="Liberation Sans, Arial, sans-serif" font-weight="bold" fill="#141414" stroke="#141414" stroke-width="0.4" textLength="13.82" lengthAdjust="spacingAndGlyphs">10 s</text><path d="M206.7 339.3H222.5" stroke="#98101a" stroke-width="2.8"/><rect x="210.83" y="336.4" width="7.54" height="5.8" fill="#98101a"/><text x="225.5" y="342.2" font-size="8.2" font-family="Liberation Sans, Arial, sans-serif" font-weight="bold" fill="#141414" stroke="#141414" stroke-width="0.4" textLength="9.87" lengthAdjust="spacingAndGlyphs">8 s</text><path d="M206.7 354.5H222.5" stroke="#6c1717" stroke-width="2.8"/><path d="M214.6 358.12L218.94 352.18L210.26 352.18Z" fill="#6c1717"/><text x="225.5" y="357.4" font-size="8.2" font-family="Liberation Sans, Arial, sans-serif" font-weight="bold" fill="#141414" stroke="#141414" stroke-width="0.4" textLength="9.87" lengthAdjust="spacingAndGlyphs">6 s</text><path d="M206.7 369.7H222.5" stroke="#481313" stroke-width="2.8"/><path d="M214.6 365.93L218.94 369.7L214.6 373.47L210.26 369.7Z" fill="#481313"/><text x="225.5" y="372.6" font-size="8.2" font-family="Liberation Sans, Arial, sans-serif" font-weight="bold" fill="#141414" stroke="#141414" stroke-width="0.4" textLength="9.87" lengthAdjust="spacingAndGlyphs">4 s</text><path d="M206.7 384.9H222.5" stroke="#0e0e0e" stroke-width="2.8"/><path d="M219.5 384.9L211.21 381.71L211.21 388.09Z" fill="#0e0e0e"/><text x="225.5" y="387.8" font-size="8.2" font-family="Liberation Sans, Arial, sans-serif" font-weight="bold" fill="#141414" stroke="#141414" stroke-width="0.4" textLength="9.87" lengthAdjust="spacingAndGlyphs">2 s</text><clipPath id="cd"><rect x="286.2" y="259.3" width="163.4" height="132.2"/></clipPath><g clip-path="url(#cd)"><path d="M286.2 379.4L287.7 378.81L289.2 378.24L290.7 377.72L292.2 377.22L293.7 376.76L295.2 376.33L296.7 375.94L298.2 375.58L299.7 375.26L301.2 374.98L302.7 374.73L304.2 374.52L305.7 374.35L307.2 374.21L308.7 374.11L310.2 374.04L311.7 374L313.2 374L314.7 374.02L316.2 374.08L317.7 374.17L319.2 374.28L320.7 374.42L322.2 374.58L323.7 374.77L325.2 374.98L326.7 375.21L328.2 375.46L329.7 375.73L331.2 376.01L332.7 376.31L334.2 376.62L335.7 376.94L337.2 377.27L338.7 377.6L340.2 377.94L341.7 378.29L343.2 378.64L344.7 378.99L346.2 379.33L347.7 379.68L349.2 380.02L350.7 380.36L352.2 380.69L353.7 381.01L355.2 381.33L356.7 381.63L358.2 381.92L359.7 382.2L361.2 382.46L362.7 382.71L364.2 382.95L365.7 383.16L367.2 383.36L368.7 383.54L370.2 383.71L371.7 383.85L373.2 383.97L374.7 384.07L376.2 384.15L377.7 384.21L379.2 384.24L380.7 384.26L382.2 384.25L383.7 384.22L385.2 384.16L386.7 384.09L388.2 383.99L389.7 383.87L391.2 383.73L392.7 383.56L394.2 383.38L395.7 383.18L397.2 382.95L398.7 382.71L400.2 382.45L401.7 382.17L403.2 381.87L404.7 381.56L406.2 381.23L407.7 380.89L409.2 380.53L410.7 380.16L412.2 379.78L413.7 379.38L415.2 378.98L416.7 378.57L418.2 378.15L419.7 377.72L421.2 377.29L422.7 376.86L424.2 376.42L425.7 375.98L427.2 375.53L428.7 375.09L430.2 374.65L431.7 374.21L433.2 373.77L434.7 373.33L436.2 372.9L437.7 372.47L439.2 372.05L440.7 371.64L442.2 371.23L443.7 370.83L445.2 370.43L446.7 370.05L448.2 369.67L449.7 369.3" stroke="#0e0e0e" stroke-width="1.6" fill="none"/><path d="M289.01 379.16L285.27 377.29L285.27 381.03Z" fill="#0e0e0e"/><path d="M293.67 377.46L289.93 375.59L289.93 379.33Z" fill="#0e0e0e"/><path d="M298.33 376.09L294.59 374.22L294.59 377.96Z" fill="#0e0e0e"/><path d="M302.98 375.06L299.24 373.19L299.24 376.93Z" fill="#0e0e0e"/><path d="M307.64 374.38L303.9 372.51L303.9 376.25Z" fill="#0e0e0e"/><path d="M312.3 374.04L308.56 372.17L308.56 375.91Z" fill="#0e0e0e"/><path d="M316.96 374.02L313.22 372.15L313.22 375.89Z" fill="#0e0e0e"/><path d="M321.62 374.3L317.88 372.43L317.88 376.17Z" fill="#0e0e0e"/><path d="M326.27 374.82L322.53 372.95L322.53 376.69Z" fill="#0e0e0e"/><path d="M330.93 375.55L327.19 373.68L327.19 377.42Z" fill="#0e0e0e"/><path d="M335.59 376.45L331.85 374.58L331.85 378.32Z" fill="#0e0e0e"/><path d="M340.25 377.45L336.51 375.58L336.51 379.32Z" fill="#0e0e0e"/><path d="M344.91 378.52L341.17 376.65L341.17 380.39Z" fill="#0e0e0e"/><path d="M349.56 379.6L345.82 377.73L345.82 381.47Z" fill="#0e0e0e"/><path d="M354.22 380.65L350.48 378.78L350.48 382.52Z" fill="#0e0e0e"/><path d="M358.88 381.62L355.14 379.75L355.14 383.49Z" fill="#0e0e0e"/><path d="M363.54 382.49L359.8 380.62L359.8 384.36Z" fill="#0e0e0e"/><path d="M368.2 383.2L364.46 381.33L364.46 385.07Z" fill="#0e0e0e"/><path d="M372.85 383.75L369.11 381.88L369.11 385.62Z" fill="#0e0e0e"/><path d="M377.51 384.1L373.77 382.23L373.77 385.97Z" fill="#0e0e0e"/><path d="M382.17 384.25L378.43 382.38L378.43 386.12Z" fill="#0e0e0e"/><path d="M386.83 384.19L383.09 382.32L383.09 386.06Z" fill="#0e0e0e"/><path d="M391.49 383.91L387.75 382.04L387.75 385.78Z" fill="#0e0e0e"/><path d="M396.14 383.42L392.4 381.55L392.4 385.29Z" fill="#0e0e0e"/><path d="M400.8 382.73L397.06 380.86L397.06 384.6Z" fill="#0e0e0e"/><path d="M405.46 381.86L401.72 379.99L401.72 383.73Z" fill="#0e0e0e"/><path d="M410.12 380.84L406.38 378.97L406.38 382.71Z" fill="#0e0e0e"/><path d="M414.78 379.68L411.04 377.81L411.04 381.55Z" fill="#0e0e0e"/><path d="M419.43 378.42L415.69 376.55L415.69 380.29Z" fill="#0e0e0e"/><path d="M424.09 377.1L420.35 375.23L420.35 378.97Z" fill="#0e0e0e"/><path d="M428.75 375.73L425.01 373.86L425.01 377.6Z" fill="#0e0e0e"/><path d="M433.41 374.35L429.67 372.48L429.67 376.22Z" fill="#0e0e0e"/><path d="M438.07 373L434.33 371.13L434.33 374.87Z" fill="#0e0e0e"/><path d="M442.72 371.69L438.98 369.82L438.98 373.56Z" fill="#0e0e0e"/><path d="M447.38 370.44L443.64 368.57L443.64 372.31Z" fill="#0e0e0e"/><path d="M452.04 369.27L448.3 367.4L448.3 371.14Z" fill="#0e0e0e"/><path d="M286.2 369.45L287.7 368.85L289.2 368.27L290.7 367.7L292.2 367.16L293.7 366.65L295.2 366.16L296.7 365.7L298.2 365.28L299.7 364.89L301.2 364.53L302.7 364.21L304.2 363.92L305.7 363.67L307.2 363.46L308.7 363.29L310.2 363.15L311.7 363.04L313.2 362.97L314.7 362.94L316.2 362.93L317.7 362.96L319.2 363.02L320.7 363.11L322.2 363.23L323.7 363.37L325.2 363.54L326.7 363.73L328.2 363.94L329.7 364.17L331.2 364.42L332.7 364.69L334.2 364.97L335.7 365.26L337.2 365.56L338.7 365.87L340.2 366.19L341.7 366.51L343.2 366.83L344.7 367.16L346.2 367.48L347.7 367.8L349.2 368.12L350.7 368.43L352.2 368.74L353.7 369.03L355.2 369.32L356.7 369.59L358.2 369.85L359.7 370.1L361.2 370.33L362.7 370.55L364.2 370.75L365.7 370.93L367.2 371.09L368.7 371.24L370.2 371.36L371.7 371.46L373.2 371.55L374.7 371.61L376.2 371.65L377.7 371.67L379.2 371.67L380.7 371.64L382.2 371.6L383.7 371.54L385.2 371.45L386.7 371.35L388.2 371.22L389.7 371.08L391.2 370.92L392.7 370.74L394.2 370.55L395.7 370.34L397.2 370.12L398.7 369.88L400.2 369.63L401.7 369.37L403.2 369.1L404.7 368.82L406.2 368.53L407.7 368.23L409.2 367.93L410.7 367.62L412.2 367.32L413.7 367L415.2 366.69L416.7 366.38L418.2 366.07L419.7 365.76L421.2 365.45L422.7 365.15L424.2 364.85L425.7 364.56L427.2 364.27L428.7 363.99L430.2 363.72L431.7 363.45L433.2 363.19L434.7 362.94L436.2 362.69L437.7 362.45L439.2 362.21L440.7 361.98L442.2 361.76L443.7 361.53L445.2 361.3L446.7 361.07L448.2 360.84L449.7 360.6" stroke="#481313" stroke-width="1.5" fill="none"/><path d="M286.8 367L288.75 369.21L286.8 371.42L284.85 369.21Z" fill="#481313"/><path d="M291.46 365.22L293.41 367.43L291.46 369.64L289.5 367.43Z" fill="#481313"/><path d="M296.12 363.67L298.07 365.88L296.12 368.09L294.16 365.88Z" fill="#481313"/><path d="M300.77 362.42L302.73 364.63L300.77 366.84L298.82 364.63Z" fill="#481313"/><path d="M305.43 361.51L307.39 363.72L305.43 365.93L303.48 363.72Z" fill="#481313"/><path d="M310.09 360.94L312.05 363.15L310.09 365.36L308.14 363.15Z" fill="#481313"/><path d="M314.75 360.72L316.7 362.93L314.75 365.14L312.79 362.93Z" fill="#481313"/><path d="M319.41 360.82L321.36 363.03L319.41 365.24L317.45 363.03Z" fill="#481313"/><path d="M324.06 361.2L326.02 363.41L324.06 365.62L322.11 363.41Z" fill="#481313"/><path d="M328.72 361.81L330.68 364.02L328.72 366.23L326.77 364.02Z" fill="#481313"/><path d="M333.38 362.6L335.33 364.81L333.38 367.02L331.43 364.81Z" fill="#481313"/><path d="M338.04 363.52L339.99 365.73L338.04 367.94L336.08 365.73Z" fill="#481313"/><path d="M342.7 364.51L344.65 366.72L342.7 368.93L340.74 366.72Z" fill="#481313"/><path d="M347.35 365.52L349.31 367.73L347.35 369.94L345.4 367.73Z" fill="#481313"/><path d="M352.01 366.49L353.97 368.7L352.01 370.91L350.06 368.7Z" fill="#481313"/><path d="M356.67 367.38L358.62 369.59L356.67 371.8L354.72 369.59Z" fill="#481313"/><path d="M361.33 368.14L363.28 370.35L361.33 372.56L359.37 370.35Z" fill="#481313"/><path d="M365.99 368.75L367.94 370.96L365.99 373.17L364.03 370.96Z" fill="#481313"/><path d="M370.64 369.18L372.6 371.39L370.64 373.6L368.69 371.39Z" fill="#481313"/><path d="M375.3 369.42L377.26 371.63L375.3 373.84L373.35 371.63Z" fill="#481313"/><path d="M379.96 369.45L381.92 371.66L379.96 373.87L378.01 371.66Z" fill="#481313"/><path d="M384.62 369.28L386.57 371.49L384.62 373.7L382.66 371.49Z" fill="#481313"/><path d="M389.28 368.91L391.23 371.12L389.28 373.33L387.32 371.12Z" fill="#481313"/><path d="M393.93 368.38L395.89 370.59L393.93 372.8L391.98 370.59Z" fill="#481313"/><path d="M398.59 367.69L400.55 369.9L398.59 372.11L396.64 369.9Z" fill="#481313"/><path d="M403.25 366.88L405.2 369.09L403.25 371.3L401.3 369.09Z" fill="#481313"/><path d="M407.91 365.98L409.86 368.19L407.91 370.4L405.95 368.19Z" fill="#481313"/><path d="M412.57 365.03L414.52 367.24L412.57 369.45L410.61 367.24Z" fill="#481313"/><path d="M417.22 364.06L419.18 366.27L417.22 368.48L415.27 366.27Z" fill="#481313"/><path d="M421.88 363.1L423.84 365.31L421.88 367.52L419.93 365.31Z" fill="#481313"/><path d="M426.54 362.19L428.49 364.4L426.54 366.61L424.58 364.4Z" fill="#481313"/><path d="M431.2 361.33L433.15 363.54L431.2 365.75L429.24 363.54Z" fill="#481313"/><path d="M435.86 360.54L437.81 362.75L435.86 364.96L433.9 362.75Z" fill="#481313"/><path d="M440.51 359.8L442.47 362.01L440.51 364.22L438.56 362.01Z" fill="#481313"/><path d="M445.17 359.1L447.13 361.31L445.17 363.52L443.22 361.31Z" fill="#481313"/><path d="M449.83 358.37L451.79 360.58L449.83 362.79L447.88 360.58Z" fill="#481313"/><path d="M286.2 358.59L287.7 357.6L289.2 356.67L290.7 355.8L292.2 354.98L293.7 354.22L295.2 353.52L296.7 352.88L298.2 352.29L299.7 351.75L301.2 351.27L302.7 350.84L304.2 350.47L305.7 350.14L307.2 349.86L308.7 349.62L310.2 349.43L311.7 349.27L313.2 349.16L314.7 349.08L316.2 349.04L317.7 349.03L319.2 349.05L320.7 349.1L322.2 349.17L323.7 349.26L325.2 349.38L326.7 349.51L328.2 349.66L329.7 349.82L331.2 349.99L332.7 350.17L334.2 350.35L335.7 350.54L337.2 350.73L338.7 350.93L340.2 351.12L341.7 351.3L343.2 351.49L344.7 351.66L346.2 351.83L347.7 351.98L349.2 352.12L350.7 352.26L352.2 352.37L353.7 352.47L355.2 352.56L356.7 352.63L358.2 352.68L359.7 352.71L361.2 352.72L362.7 352.72L364.2 352.69L365.7 352.64L367.2 352.58L368.7 352.49L370.2 352.39L371.7 352.26L373.2 352.12L374.7 351.95L376.2 351.77L377.7 351.57L379.2 351.36L380.7 351.13L382.2 350.88L383.7 350.62L385.2 350.35L386.7 350.06L388.2 349.77L389.7 349.46L391.2 349.15L392.7 348.83L394.2 348.51L395.7 348.18L397.2 347.85L398.7 347.52L400.2 347.19L401.7 346.86L403.2 346.54L404.7 346.22L406.2 345.91L407.7 345.61L409.2 345.32L410.7 345.04L412.2 344.77L413.7 344.51L415.2 344.27L416.7 344.05L418.2 343.84L419.7 343.65L421.2 343.48L422.7 343.33L424.2 343.19L425.7 343.08L427.2 342.98L428.7 342.91L430.2 342.85L431.7 342.81L433.2 342.78L434.7 342.77L436.2 342.78L437.7 342.8L439.2 342.82L440.7 342.86L442.2 342.9L443.7 342.94L445.2 342.98L446.7 343.01L448.2 343.03L449.7 343.04" stroke="#6c1717" stroke-width="1.5" fill="none"/><path d="M286.8 360.31L288.75 356.83L284.85 356.83Z" fill="#6c1717"/><path d="M291.46 357.5L293.41 354.02L289.5 354.02Z" fill="#6c1717"/><path d="M296.12 355.24L298.07 351.76L294.16 351.76Z" fill="#6c1717"/><path d="M300.77 353.53L302.73 350.04L298.82 350.04Z" fill="#6c1717"/><path d="M305.43 352.32L307.39 348.83L303.48 348.83Z" fill="#6c1717"/><path d="M310.09 351.56L312.05 348.08L308.14 348.08Z" fill="#6c1717"/><path d="M314.75 351.21L316.7 347.72L312.79 347.72Z" fill="#6c1717"/><path d="M319.41 351.18L321.36 347.7L317.45 347.7Z" fill="#6c1717"/><path d="M324.06 351.41L326.02 347.93L322.11 347.93Z" fill="#6c1717"/><path d="M328.72 351.83L330.68 348.35L326.77 348.35Z" fill="#6c1717"/><path d="M333.38 352.37L335.33 348.89L331.43 348.89Z" fill="#6c1717"/><path d="M338.04 352.97L339.99 349.48L336.08 349.48Z" fill="#6c1717"/><path d="M342.7 353.55L344.65 350.07L340.74 350.07Z" fill="#6c1717"/><path d="M347.35 354.07L349.31 350.59L345.4 350.59Z" fill="#6c1717"/><path d="M352.01 354.48L353.97 351L350.06 351Z" fill="#6c1717"/><path d="M356.67 354.75L358.62 351.27L354.72 351.27Z" fill="#6c1717"/><path d="M361.33 354.85L363.28 351.36L359.37 351.36Z" fill="#6c1717"/><path d="M365.99 354.76L367.94 351.27L364.03 351.27Z" fill="#6c1717"/><path d="M370.64 354.48L372.6 350.99L368.69 350.99Z" fill="#6c1717"/><path d="M375.3 354.01L377.26 350.52L373.35 350.52Z" fill="#6c1717"/><path d="M379.96 353.37L381.92 349.88L378.01 349.88Z" fill="#6c1717"/><path d="M384.62 352.58L386.57 349.1L382.66 349.1Z" fill="#6c1717"/><path d="M389.28 351.67L391.23 348.19L387.32 348.19Z" fill="#6c1717"/><path d="M393.93 350.69L395.89 347.2L391.98 347.2Z" fill="#6c1717"/><path d="M398.59 349.67L400.55 346.18L396.64 346.18Z" fill="#6c1717"/><path d="M403.25 348.65L405.2 345.17L401.3 345.17Z" fill="#6c1717"/><path d="M407.91 347.69L409.86 344.21L405.95 344.21Z" fill="#6c1717"/><path d="M412.57 346.83L414.52 343.34L410.61 343.34Z" fill="#6c1717"/><path d="M417.22 346.1L419.18 342.62L415.27 342.62Z" fill="#6c1717"/><path d="M421.88 345.53L423.84 342.05L419.93 342.05Z" fill="#6c1717"/><path d="M426.54 345.15L428.49 341.66L424.58 341.66Z" fill="#6c1717"/><path d="M431.2 344.94L433.15 341.46L429.24 341.46Z" fill="#6c1717"/><path d="M435.86 344.9L437.81 341.42L433.9 341.42Z" fill="#6c1717"/><path d="M440.51 344.98L442.47 341.49L438.56 341.49Z" fill="#6c1717"/><path d="M445.17 345.1L447.13 341.62L443.22 341.62Z" fill="#6c1717"/><path d="M449.83 345.17L451.79 341.68L447.88 341.68Z" fill="#6c1717"/><path d="M286.2 351.31L287.7 350.45L289.2 349.64L290.7 348.89L292.2 348.17L293.7 347.51L295.2 346.9L296.7 346.33L298.2 345.8L299.7 345.32L301.2 344.88L302.7 344.49L304.2 344.13L305.7 343.81L307.2 343.53L308.7 343.28L310.2 343.06L311.7 342.88L313.2 342.72L314.7 342.6L316.2 342.49L317.7 342.41L319.2 342.35L320.7 342.31L322.2 342.29L323.7 342.28L325.2 342.29L326.7 342.3L328.2 342.33L329.7 342.36L331.2 342.4L332.7 342.44L334.2 342.48L335.7 342.53L337.2 342.57L338.7 342.61L340.2 342.65L341.7 342.68L343.2 342.7L344.7 342.71L346.2 342.72L347.7 342.71L349.2 342.7L350.7 342.67L352.2 342.63L353.7 342.57L355.2 342.5L356.7 342.42L358.2 342.32L359.7 342.21L361.2 342.08L362.7 341.93L364.2 341.77L365.7 341.6L367.2 341.41L368.7 341.21L370.2 340.99L371.7 340.76L373.2 340.51L374.7 340.26L376.2 339.99L377.7 339.71L379.2 339.42L380.7 339.12L382.2 338.82L383.7 338.51L385.2 338.19L386.7 337.87L388.2 337.55L389.7 337.23L391.2 336.9L392.7 336.58L394.2 336.26L395.7 335.94L397.2 335.63L398.7 335.33L400.2 335.03L401.7 334.75L403.2 334.48L404.7 334.22L406.2 333.97L407.7 333.74L409.2 333.53L410.7 333.33L412.2 333.15L413.7 333L415.2 332.86L416.7 332.75L418.2 332.65L419.7 332.58L421.2 332.54L422.7 332.51L424.2 332.51L425.7 332.53L427.2 332.58L428.7 332.65L430.2 332.73L431.7 332.84L433.2 332.97L434.7 333.12L436.2 333.28L437.7 333.45L439.2 333.64L440.7 333.83L442.2 334.03L443.7 334.23L445.2 334.43L446.7 334.62L448.2 334.8L449.7 334.97" stroke="#98101a" stroke-width="1.6" fill="none"/><rect x="285.2" y="349.36" width="3.2" height="3.2" fill="#98101a"/><rect x="289.86" y="346.92" width="3.2" height="3.2" fill="#98101a"/><rect x="294.52" y="344.94" width="3.2" height="3.2" fill="#98101a"/><rect x="299.17" y="343.4" width="3.2" height="3.2" fill="#98101a"/><rect x="303.83" y="342.26" width="3.2" height="3.2" fill="#98101a"/><rect x="308.49" y="341.48" width="3.2" height="3.2" fill="#98101a"/><rect x="313.15" y="340.99" width="3.2" height="3.2" fill="#98101a"/><rect x="317.81" y="340.75" width="3.2" height="3.2" fill="#98101a"/><rect x="322.46" y="340.68" width="3.2" height="3.2" fill="#98101a"/><rect x="327.12" y="340.74" width="3.2" height="3.2" fill="#98101a"/><rect x="331.78" y="340.86" width="3.2" height="3.2" fill="#98101a"/><rect x="336.44" y="340.99" width="3.2" height="3.2" fill="#98101a"/><rect x="341.1" y="341.09" width="3.2" height="3.2" fill="#98101a"/><rect x="345.75" y="341.11" width="3.2" height="3.2" fill="#98101a"/><rect x="350.41" y="341.03" width="3.2" height="3.2" fill="#98101a"/><rect x="355.07" y="340.82" width="3.2" height="3.2" fill="#98101a"/><rect x="359.73" y="340.47" width="3.2" height="3.2" fill="#98101a"/><rect x="364.39" y="339.96" width="3.2" height="3.2" fill="#98101a"/><rect x="369.04" y="339.32" width="3.2" height="3.2" fill="#98101a"/><rect x="373.7" y="338.55" width="3.2" height="3.2" fill="#98101a"/><rect x="378.36" y="337.67" width="3.2" height="3.2" fill="#98101a"/><rect x="383.02" y="336.72" width="3.2" height="3.2" fill="#98101a"/><rect x="387.68" y="335.72" width="3.2" height="3.2" fill="#98101a"/><rect x="392.33" y="334.71" width="3.2" height="3.2" fill="#98101a"/><rect x="396.99" y="333.75" width="3.2" height="3.2" fill="#98101a"/><rect x="401.65" y="332.87" width="3.2" height="3.2" fill="#98101a"/><rect x="406.31" y="332.11" width="3.2" height="3.2" fill="#98101a"/><rect x="410.97" y="331.51" width="3.2" height="3.2" fill="#98101a"/><rect x="415.62" y="331.11" width="3.2" height="3.2" fill="#98101a"/><rect x="420.28" y="330.92" width="3.2" height="3.2" fill="#98101a"/><rect x="424.94" y="330.96" width="3.2" height="3.2" fill="#98101a"/><rect x="429.6" y="331.2" width="3.2" height="3.2" fill="#98101a"/><rect x="434.26" y="331.64" width="3.2" height="3.2" fill="#98101a"/><rect x="438.91" y="332.21" width="3.2" height="3.2" fill="#98101a"/><rect x="443.57" y="332.83" width="3.2" height="3.2" fill="#98101a"/><rect x="448.23" y="333.38" width="3.2" height="3.2" fill="#98101a"/><path d="M286.2 348.05L287.7 347.04L289.2 346.09L290.7 345.2L292.2 344.36L293.7 343.58L295.2 342.85L296.7 342.16L298.2 341.53L299.7 340.94L301.2 340.4L302.7 339.89L304.2 339.43L305.7 339.01L307.2 338.62L308.7 338.26L310.2 337.93L311.7 337.64L313.2 337.36L314.7 337.12L316.2 336.89L317.7 336.68L319.2 336.5L320.7 336.32L322.2 336.16L323.7 336.01L325.2 335.87L326.7 335.73L328.2 335.61L329.7 335.48L331.2 335.35L332.7 335.23L334.2 335.11L335.7 334.98L337.2 334.84L338.7 334.71L340.2 334.56L341.7 334.41L343.2 334.25L344.7 334.08L346.2 333.9L347.7 333.71L349.2 333.51L350.7 333.3L352.2 333.07L353.7 332.84L355.2 332.59L356.7 332.33L358.2 332.06L359.7 331.78L361.2 331.49L362.7 331.19L364.2 330.89L365.7 330.57L367.2 330.24L368.7 329.91L370.2 329.57L371.7 329.23L373.2 328.88L374.7 328.54L376.2 328.19L377.7 327.84L379.2 327.49L380.7 327.15L382.2 326.81L383.7 326.48L385.2 326.15L386.7 325.84L388.2 325.53L389.7 325.24L391.2 324.97L392.7 324.7L394.2 324.46L395.7 324.23L397.2 324.02L398.7 323.84L400.2 323.67L401.7 323.53L403.2 323.42L404.7 323.33L406.2 323.26L407.7 323.23L409.2 323.22L410.7 323.24L412.2 323.28L413.7 323.36L415.2 323.46L416.7 323.59L418.2 323.74L419.7 323.92L421.2 324.13L422.7 324.36L424.2 324.61L425.7 324.87L427.2 325.16L428.7 325.45L430.2 325.76L431.7 326.08L433.2 326.39L434.7 326.71L436.2 327.01L437.7 327.31L439.2 327.58L440.7 327.83L442.2 328.05L443.7 328.23L445.2 328.37L446.7 328.44L448.2 328.45L449.7 328.39" stroke="#dc2626" stroke-width="1.8" fill="none"/><ellipse cx="286.8" cy="347.64" rx="1.65" ry="0.93" fill="#dc2626"/><ellipse cx="291.46" cy="344.77" rx="1.65" ry="0.93" fill="#dc2626"/><ellipse cx="296.12" cy="342.42" rx="1.65" ry="0.93" fill="#dc2626"/><ellipse cx="300.77" cy="340.55" rx="1.65" ry="0.93" fill="#dc2626"/><ellipse cx="305.43" cy="339.08" rx="1.65" ry="0.93" fill="#dc2626"/><ellipse cx="310.09" cy="337.96" rx="1.65" ry="0.93" fill="#dc2626"/><ellipse cx="314.75" cy="337.11" rx="1.65" ry="0.93" fill="#dc2626"/><ellipse cx="319.41" cy="336.47" rx="1.65" ry="0.93" fill="#dc2626"/><ellipse cx="324.06" cy="335.98" rx="1.65" ry="0.93" fill="#dc2626"/><ellipse cx="328.72" cy="335.56" rx="1.65" ry="0.93" fill="#dc2626"/><ellipse cx="333.38" cy="335.17" rx="1.65" ry="0.93" fill="#dc2626"/><ellipse cx="338.04" cy="334.77" rx="1.65" ry="0.93" fill="#dc2626"/><ellipse cx="342.7" cy="334.3" rx="1.65" ry="0.93" fill="#dc2626"/><ellipse cx="347.35" cy="333.75" rx="1.65" ry="0.93" fill="#dc2626"/><ellipse cx="352.01" cy="333.1" rx="1.65" ry="0.93" fill="#dc2626"/><ellipse cx="356.67" cy="332.34" rx="1.65" ry="0.93" fill="#dc2626"/><ellipse cx="361.33" cy="331.47" rx="1.65" ry="0.93" fill="#dc2626"/><ellipse cx="365.99" cy="330.51" rx="1.65" ry="0.93" fill="#dc2626"/><ellipse cx="370.64" cy="329.47" rx="1.65" ry="0.93" fill="#dc2626"/><ellipse cx="375.3" cy="328.4" rx="1.65" ry="0.93" fill="#dc2626"/><ellipse cx="379.96" cy="327.32" rx="1.65" ry="0.93" fill="#dc2626"/><ellipse cx="384.62" cy="326.28" rx="1.65" ry="0.93" fill="#dc2626"/><ellipse cx="389.28" cy="325.32" rx="1.65" ry="0.93" fill="#dc2626"/><ellipse cx="393.93" cy="324.5" rx="1.65" ry="0.93" fill="#dc2626"/><ellipse cx="398.59" cy="323.85" rx="1.65" ry="0.93" fill="#dc2626"/><ellipse cx="403.25" cy="323.42" rx="1.65" ry="0.93" fill="#dc2626"/><ellipse cx="407.91" cy="323.22" rx="1.65" ry="0.93" fill="#dc2626"/><ellipse cx="412.57" cy="323.3" rx="1.65" ry="0.93" fill="#dc2626"/><ellipse cx="417.22" cy="323.64" rx="1.65" ry="0.93" fill="#dc2626"/><ellipse cx="421.88" cy="324.23" rx="1.65" ry="0.93" fill="#dc2626"/><ellipse cx="426.54" cy="325.03" rx="1.65" ry="0.93" fill="#dc2626"/><ellipse cx="431.2" cy="325.97" rx="1.65" ry="0.93" fill="#dc2626"/><ellipse cx="435.86" cy="326.94" rx="1.65" ry="0.93" fill="#dc2626"/><ellipse cx="440.51" cy="327.8" rx="1.65" ry="0.93" fill="#dc2626"/><ellipse cx="445.17" cy="328.36" rx="1.65" ry="0.93" fill="#dc2626"/><ellipse cx="449.83" cy="328.38" rx="1.65" ry="0.93" fill="#dc2626"/><path d="M286.2 338.3L287.7 337.36L289.2 336.44L290.7 335.54L292.2 334.67L293.7 333.81L295.2 332.98L296.7 332.17L298.2 331.38L299.7 330.6L301.2 329.85L302.7 329.11L304.2 328.39L305.7 327.68L307.2 326.99L308.7 326.32L310.2 325.66L311.7 325.02L313.2 324.39L314.7 323.78L316.2 323.18L317.7 322.6L319.2 322.03L320.7 321.47L322.2 320.92L323.7 320.39L325.2 319.87L326.7 319.36L328.2 318.87L329.7 318.38L331.2 317.91L332.7 317.45L334.2 317.01L335.7 316.57L337.2 316.15L338.7 315.73L340.2 315.33L341.7 314.94L343.2 314.57L344.7 314.2L346.2 313.85L347.7 313.51L349.2 313.18L350.7 312.86L352.2 312.55L353.7 312.26L355.2 311.98L356.7 311.71L358.2 311.45L359.7 311.2L361.2 310.97L362.7 310.75L364.2 310.55L365.7 310.35L367.2 310.17L368.7 310L370.2 309.85L371.7 309.71L373.2 309.58L374.7 309.47L376.2 309.37L377.7 309.28L379.2 309.21L380.7 309.15L382.2 309.11L383.7 309.08L385.2 309.06L386.7 309.06L388.2 309.07L389.7 309.1L391.2 309.14L392.7 309.2L394.2 309.26L395.7 309.35L397.2 309.44L398.7 309.55L400.2 309.68L401.7 309.82L403.2 309.97L404.7 310.13L406.2 310.3L407.7 310.49L409.2 310.69L410.7 310.9L412.2 311.13L413.7 311.36L415.2 311.6L416.7 311.86L418.2 312.12L419.7 312.39L421.2 312.67L422.7 312.95L424.2 313.24L425.7 313.54L427.2 313.84L428.7 314.14L430.2 314.45L431.7 314.76L433.2 315.07L434.7 315.37L436.2 315.68L437.7 315.98L439.2 316.27L440.7 316.56L442.2 316.84L443.7 317.12L445.2 317.38L446.7 317.62L448.2 317.86L449.7 318.07" stroke="#e8482e" stroke-width="1.9" fill="none"/><path d="M286.8 335.54L287.42 337.3L288.91 337.92L287.42 338.54L286.8 340.3L286.18 338.54L284.69 337.92L286.18 337.3Z" fill="#e8482e"/><path d="M291.46 332.72L292.07 334.48L293.57 335.1L292.07 335.71L291.46 337.47L290.84 335.71L289.35 335.1L290.84 334.48Z" fill="#e8482e"/><path d="M296.12 330.11L296.73 331.87L298.23 332.48L296.73 333.1L296.12 334.86L295.5 333.1L294 332.48L295.5 331.87Z" fill="#e8482e"/><path d="M300.77 327.68L301.39 329.44L302.89 330.06L301.39 330.67L300.77 332.43L300.16 330.67L298.66 330.06L300.16 329.44Z" fill="#e8482e"/><path d="M305.43 325.43L306.05 327.19L307.54 327.81L306.05 328.42L305.43 330.18L304.82 328.42L303.32 327.81L304.82 327.19Z" fill="#e8482e"/><path d="M310.09 323.34L310.71 325.1L312.2 325.71L310.71 326.33L310.09 328.09L309.47 326.33L307.98 325.71L309.47 325.1Z" fill="#e8482e"/><path d="M314.75 321.39L315.36 323.15L316.86 323.76L315.36 324.38L314.75 326.14L314.13 324.38L312.64 323.76L314.13 323.15Z" fill="#e8482e"/><path d="M319.41 319.57L320.02 321.33L321.52 321.95L320.02 322.56L319.41 324.32L318.79 322.56L317.29 321.95L318.79 321.33Z" fill="#e8482e"/><path d="M324.06 317.89L324.68 319.65L326.18 320.26L324.68 320.88L324.06 322.64L323.45 320.88L321.95 320.26L323.45 319.65Z" fill="#e8482e"/><path d="M328.72 316.32L329.34 318.08L330.83 318.7L329.34 319.31L328.72 321.07L328.11 319.31L326.61 318.7L328.11 318.08Z" fill="#e8482e"/><path d="M333.38 314.87L334 316.63L335.49 317.25L334 317.86L333.38 319.62L332.76 317.86L331.27 317.25L332.76 316.63Z" fill="#e8482e"/><path d="M338.04 313.54L338.65 315.3L340.15 315.91L338.65 316.53L338.04 318.29L337.42 316.53L335.93 315.91L337.42 315.3Z" fill="#e8482e"/><path d="M342.7 312.32L343.31 314.08L344.81 314.69L343.31 315.31L342.7 317.07L342.08 315.31L340.58 314.69L342.08 314.08Z" fill="#e8482e"/><path d="M347.35 311.21L347.97 312.97L349.47 313.58L347.97 314.2L347.35 315.96L346.74 314.2L345.24 313.58L346.74 312.97Z" fill="#e8482e"/><path d="M352.01 310.21L352.63 311.97L354.12 312.59L352.63 313.21L352.01 314.97L351.4 313.21L349.9 312.59L351.4 311.97Z" fill="#e8482e"/><path d="M356.67 309.34L357.29 311.1L358.78 311.71L357.29 312.33L356.67 314.09L356.05 312.33L354.56 311.71L356.05 311.1Z" fill="#e8482e"/><path d="M361.33 308.58L361.94 310.34L363.44 310.95L361.94 311.57L361.33 313.33L360.71 311.57L359.22 310.95L360.71 310.34Z" fill="#e8482e"/><path d="M365.99 307.94L366.6 309.7L368.1 310.32L366.6 310.93L365.99 312.69L365.37 310.93L363.87 310.32L365.37 309.7Z" fill="#e8482e"/><path d="M370.64 307.43L371.26 309.19L372.76 309.81L371.26 310.42L370.64 312.18L370.03 310.42L368.53 309.81L370.03 309.19Z" fill="#e8482e"/><path d="M375.3 307.05L375.92 308.81L377.41 309.43L375.92 310.04L375.3 311.8L374.69 310.04L373.19 309.43L374.69 308.81Z" fill="#e8482e"/><path d="M379.96 306.8L380.58 308.56L382.07 309.18L380.58 309.8L379.96 311.56L379.34 309.8L377.85 309.18L379.34 308.56Z" fill="#e8482e"/><path d="M384.62 306.69L385.23 308.45L386.73 309.07L385.23 309.68L384.62 311.44L384 309.68L382.51 309.07L384 308.45Z" fill="#e8482e"/><path d="M389.28 306.72L389.89 308.48L391.39 309.09L389.89 309.71L389.28 311.47L388.66 309.71L387.16 309.09L388.66 308.48Z" fill="#e8482e"/><path d="M393.93 306.88L394.55 308.64L396.05 309.25L394.55 309.87L393.93 311.63L393.32 309.87L391.82 309.25L393.32 308.64Z" fill="#e8482e"/><path d="M398.59 307.17L399.21 308.93L400.7 309.55L399.21 310.16L398.59 311.92L397.98 310.16L396.48 309.55L397.98 308.93Z" fill="#e8482e"/><path d="M403.25 307.6L403.87 309.36L405.36 309.97L403.87 310.59L403.25 312.35L402.63 310.59L401.14 309.97L402.63 309.36Z" fill="#e8482e"/><path d="M407.91 308.14L408.52 309.9L410.02 310.52L408.52 311.14L407.91 312.9L407.29 311.14L405.8 310.52L407.29 309.9Z" fill="#e8482e"/><path d="M412.57 308.81L413.18 310.57L414.68 311.18L413.18 311.8L412.57 313.56L411.95 311.8L410.45 311.18L411.95 310.57Z" fill="#e8482e"/><path d="M417.22 309.57L417.84 311.33L419.34 311.95L417.84 312.56L417.22 314.32L416.61 312.56L415.11 311.95L416.61 311.33Z" fill="#e8482e"/><path d="M421.88 310.42L422.5 312.18L423.99 312.8L422.5 313.41L421.88 315.17L421.27 313.41L419.77 312.8L421.27 312.18Z" fill="#e8482e"/><path d="M426.54 311.33L427.16 313.09L428.65 313.71L427.16 314.32L426.54 316.08L425.92 314.32L424.43 313.71L425.92 313.09Z" fill="#e8482e"/><path d="M431.2 312.28L431.81 314.04L433.31 314.65L431.81 315.27L431.2 317.03L430.58 315.27L429.09 314.65L430.58 314.04Z" fill="#e8482e"/><path d="M435.86 313.23L436.47 314.99L437.97 315.61L436.47 316.22L435.86 317.98L435.24 316.22L433.74 315.61L435.24 314.99Z" fill="#e8482e"/><path d="M440.51 314.15L441.13 315.91L442.63 316.53L441.13 317.14L440.51 318.9L439.9 317.14L438.4 316.53L439.9 315.91Z" fill="#e8482e"/><path d="M445.17 315L445.79 316.76L447.28 317.37L445.79 317.99L445.17 319.75L444.56 317.99L443.06 317.37L444.56 316.76Z" fill="#e8482e"/><path d="M449.83 315.71L450.45 317.47L451.94 318.09L450.45 318.71L449.83 320.47L449.21 318.71L447.72 318.09L449.21 317.47Z" fill="#e8482e"/><path d="M286.2 328.5L287.7 326.87L289.2 325.3L290.7 323.8L292.2 322.36L293.7 320.98L295.2 319.66L296.7 318.39L298.2 317.18L299.7 316.01L301.2 314.9L302.7 313.83L304.2 312.8L305.7 311.82L307.2 310.88L308.7 309.98L310.2 309.11L311.7 308.29L313.2 307.5L314.7 306.74L316.2 306.01L317.7 305.32L319.2 304.65L320.7 304.02L322.2 303.41L323.7 302.83L325.2 302.28L326.7 301.75L328.2 301.25L329.7 300.77L331.2 300.31L332.7 299.88L334.2 299.46L335.7 299.07L337.2 298.7L338.7 298.35L340.2 298.02L341.7 297.71L343.2 297.42L344.7 297.15L346.2 296.89L347.7 296.65L349.2 296.43L350.7 296.22L352.2 296.03L353.7 295.86L355.2 295.7L356.7 295.56L358.2 295.44L359.7 295.32L361.2 295.22L362.7 295.14L364.2 295.07L365.7 295.02L367.2 294.97L368.7 294.94L370.2 294.93L371.7 294.92L373.2 294.93L374.7 294.95L376.2 294.98L377.7 295.03L379.2 295.08L380.7 295.15L382.2 295.23L383.7 295.32L385.2 295.41L386.7 295.52L388.2 295.64L389.7 295.77L391.2 295.91L392.7 296.06L394.2 296.21L395.7 296.38L397.2 296.55L398.7 296.73L400.2 296.93L401.7 297.12L403.2 297.33L404.7 297.54L406.2 297.77L407.7 297.99L409.2 298.23L410.7 298.47L412.2 298.72L413.7 298.98L415.2 299.24L416.7 299.51L418.2 299.78L419.7 300.07L421.2 300.35L422.7 300.65L424.2 300.95L425.7 301.25L427.2 301.57L428.7 301.89L430.2 302.21L431.7 302.55L433.2 302.89L434.7 303.24L436.2 303.59L437.7 303.95L439.2 304.33L440.7 304.71L442.2 305.1L443.7 305.5L445.2 305.91L446.7 306.33L448.2 306.76L449.7 307.2" stroke="#f06a22" stroke-width="2.1" fill="none"/><path d="M286.8 325.41L288.95 327.84L286.8 330.27L284.65 327.84Z" fill="#f06a22"/><path d="M291.46 320.63L293.61 323.06L291.46 325.49L289.31 323.06Z" fill="#f06a22"/><path d="M296.12 316.45L298.27 318.88L296.12 321.31L293.97 318.88Z" fill="#f06a22"/><path d="M300.77 312.78L302.92 315.21L300.77 317.64L298.62 315.21Z" fill="#f06a22"/><path d="M305.43 309.56L307.58 311.99L305.43 314.42L303.28 311.99Z" fill="#f06a22"/><path d="M310.09 306.75L312.24 309.18L310.09 311.61L307.94 309.18Z" fill="#f06a22"/><path d="M314.75 304.28L316.9 306.71L314.75 309.14L312.6 306.71Z" fill="#f06a22"/><path d="M319.41 302.13L321.56 304.56L319.41 306.99L317.26 304.56Z" fill="#f06a22"/><path d="M324.06 300.26L326.21 302.69L324.06 305.12L321.91 302.69Z" fill="#f06a22"/><path d="M328.72 298.65L330.87 301.08L328.72 303.51L326.57 301.08Z" fill="#f06a22"/><path d="M333.38 297.26L335.53 299.69L333.38 302.12L331.23 299.69Z" fill="#f06a22"/><path d="M338.04 296.08L340.19 298.51L338.04 300.94L335.89 298.51Z" fill="#f06a22"/><path d="M342.7 295.09L344.85 297.52L342.7 299.95L340.55 297.52Z" fill="#f06a22"/><path d="M347.35 294.27L349.5 296.7L347.35 299.14L345.2 296.7Z" fill="#f06a22"/><path d="M352.01 293.63L354.16 296.06L352.01 298.49L349.86 296.06Z" fill="#f06a22"/><path d="M356.67 293.13L358.82 295.56L356.67 298L354.52 295.56Z" fill="#f06a22"/><path d="M361.33 292.79L363.48 295.22L361.33 297.65L359.18 295.22Z" fill="#f06a22"/><path d="M365.99 292.58L368.14 295.01L365.99 297.44L363.84 295.01Z" fill="#f06a22"/><path d="M370.64 292.49L372.79 294.92L370.64 297.36L368.49 294.92Z" fill="#f06a22"/><path d="M375.3 292.53L377.45 294.96L375.3 297.39L373.15 294.96Z" fill="#f06a22"/><path d="M379.96 292.68L382.11 295.12L379.96 297.55L377.81 295.12Z" fill="#f06a22"/><path d="M384.62 292.94L386.77 295.37L384.62 297.81L382.47 295.37Z" fill="#f06a22"/><path d="M389.28 293.3L391.43 295.73L389.28 298.16L387.13 295.73Z" fill="#f06a22"/><path d="M393.93 293.75L396.08 296.18L393.93 298.62L391.78 296.18Z" fill="#f06a22"/><path d="M398.59 294.29L400.74 296.72L398.59 299.15L396.44 296.72Z" fill="#f06a22"/><path d="M403.25 294.91L405.4 297.34L403.25 299.77L401.1 297.34Z" fill="#f06a22"/><path d="M407.91 295.59L410.06 298.03L407.91 300.46L405.76 298.03Z" fill="#f06a22"/><path d="M412.57 296.35L414.72 298.78L412.57 301.21L410.42 298.78Z" fill="#f06a22"/><path d="M417.22 297.17L419.37 299.6L417.22 302.03L415.07 299.6Z" fill="#f06a22"/><path d="M421.88 298.06L424.03 300.49L421.88 302.92L419.73 300.49Z" fill="#f06a22"/><path d="M426.54 299L428.69 301.43L426.54 303.86L424.39 301.43Z" fill="#f06a22"/><path d="M431.2 300L433.35 302.44L431.2 304.87L429.05 302.44Z" fill="#f06a22"/><path d="M435.86 301.08L438.01 303.51L435.86 305.94L433.71 303.51Z" fill="#f06a22"/><path d="M440.51 302.23L442.66 304.66L440.51 307.09L438.36 304.66Z" fill="#f06a22"/><path d="M445.17 303.47L447.32 305.9L445.17 308.33L443.02 305.9Z" fill="#f06a22"/><path d="M449.83 304.81L451.98 307.24L449.83 309.67L447.68 307.24Z" fill="#f06a22"/><path d="M286.2 320.5L287.7 318.57L289.2 316.73L290.7 314.98L292.2 313.32L293.7 311.74L295.2 310.23L296.7 308.8L298.2 307.43L299.7 306.12L301.2 304.87L302.7 303.68L304.2 302.55L305.7 301.46L307.2 300.42L308.7 299.43L310.2 298.48L311.7 297.57L313.2 296.7L314.7 295.87L316.2 295.07L317.7 294.31L319.2 293.58L320.7 292.88L322.2 292.21L323.7 291.57L325.2 290.95L326.7 290.36L328.2 289.8L329.7 289.26L331.2 288.75L332.7 288.26L334.2 287.79L335.7 287.35L337.2 286.93L338.7 286.52L340.2 286.14L341.7 285.79L343.2 285.45L344.7 285.13L346.2 284.83L347.7 284.55L349.2 284.29L350.7 284.05L352.2 283.83L353.7 283.63L355.2 283.45L356.7 283.28L358.2 283.14L359.7 283.01L361.2 282.9L362.7 282.8L364.2 282.73L365.7 282.67L367.2 282.63L368.7 282.6L370.2 282.59L371.7 282.6L373.2 282.62L374.7 282.66L376.2 282.71L377.7 282.78L379.2 282.86L380.7 282.96L382.2 283.07L383.7 283.19L385.2 283.32L386.7 283.47L388.2 283.63L389.7 283.8L391.2 283.98L392.7 284.17L394.2 284.37L395.7 284.58L397.2 284.8L398.7 285.02L400.2 285.26L401.7 285.5L403.2 285.75L404.7 286.01L406.2 286.27L407.7 286.54L409.2 286.81L410.7 287.09L412.2 287.37L413.7 287.66L415.2 287.95L416.7 288.25L418.2 288.55L419.7 288.86L421.2 289.17L422.7 289.48L424.2 289.8L425.7 290.13L427.2 290.46L428.7 290.8L430.2 291.14L431.7 291.49L433.2 291.85L434.7 292.22L436.2 292.6L437.7 292.99L439.2 293.39L440.7 293.81L442.2 294.25L443.7 294.71L445.2 295.18L446.7 295.68L448.2 296.2L449.7 296.76" stroke="#f49d2a" stroke-width="2.2" fill="none"/><path d="M286.8 317.38L288.95 321.21L284.65 321.21Z" fill="#f49d2a"/><path d="M291.46 311.8L293.61 315.63L289.31 315.63Z" fill="#f49d2a"/><path d="M296.12 307.01L298.27 310.84L293.97 310.84Z" fill="#f49d2a"/><path d="M300.77 302.88L302.92 306.72L298.62 306.72Z" fill="#f49d2a"/><path d="M305.43 299.31L307.58 303.15L303.28 303.15Z" fill="#f49d2a"/><path d="M310.09 296.21L312.24 300.05L307.94 300.05Z" fill="#f49d2a"/><path d="M314.75 293.51L316.9 297.34L312.6 297.34Z" fill="#f49d2a"/><path d="M319.41 291.14L321.56 294.98L317.26 294.98Z" fill="#f49d2a"/><path d="M324.06 289.08L326.21 292.91L321.91 292.91Z" fill="#f49d2a"/><path d="M328.72 287.27L330.87 291.11L326.57 291.11Z" fill="#f49d2a"/><path d="M333.38 285.71L335.53 289.54L331.23 289.54Z" fill="#f49d2a"/><path d="M338.04 284.36L340.19 288.19L335.89 288.19Z" fill="#f49d2a"/><path d="M342.7 283.22L344.85 287.05L340.55 287.05Z" fill="#f49d2a"/><path d="M347.35 282.28L349.5 286.11L345.2 286.11Z" fill="#f49d2a"/><path d="M352.01 281.52L354.16 285.36L349.86 285.36Z" fill="#f49d2a"/><path d="M356.67 280.95L358.82 284.78L354.52 284.78Z" fill="#f49d2a"/><path d="M361.33 280.55L363.48 284.38L359.18 284.38Z" fill="#f49d2a"/><path d="M365.99 280.32L368.14 284.16L363.84 284.16Z" fill="#f49d2a"/><path d="M370.64 280.25L372.79 284.09L368.49 284.09Z" fill="#f49d2a"/><path d="M375.3 280.34L377.45 284.17L373.15 284.17Z" fill="#f49d2a"/><path d="M379.96 280.57L382.11 284.4L377.81 284.4Z" fill="#f49d2a"/><path d="M384.62 280.93L386.77 284.76L382.47 284.76Z" fill="#f49d2a"/><path d="M389.28 281.41L391.43 285.24L387.13 285.24Z" fill="#f49d2a"/><path d="M393.93 282L396.08 285.83L391.78 285.83Z" fill="#f49d2a"/><path d="M398.59 282.67L400.74 286.5L396.44 286.5Z" fill="#f49d2a"/><path d="M403.25 283.42L405.4 287.26L401.1 287.26Z" fill="#f49d2a"/><path d="M407.91 284.24L410.06 288.07L405.76 288.07Z" fill="#f49d2a"/><path d="M412.57 285.11L414.72 288.94L410.42 288.94Z" fill="#f49d2a"/><path d="M417.22 286.02L419.37 289.85L415.07 289.85Z" fill="#f49d2a"/><path d="M421.88 286.97L424.03 290.81L419.73 290.81Z" fill="#f49d2a"/><path d="M426.54 287.98L428.69 291.81L424.39 291.81Z" fill="#f49d2a"/><path d="M431.2 289.04L433.35 292.87L429.05 292.87Z" fill="#f49d2a"/><path d="M435.86 290.17L438.01 294.01L433.71 294.01Z" fill="#f49d2a"/><path d="M440.51 291.42L442.66 295.26L438.36 295.26Z" fill="#f49d2a"/><path d="M445.17 292.83L447.32 296.67L443.02 296.67Z" fill="#f49d2a"/><path d="M449.83 294.47L451.98 298.3L447.68 298.3Z" fill="#f49d2a"/><path d="M286.2 310.41L287.7 308.53L289.2 306.73L290.7 305.01L292.2 303.37L293.7 301.79L295.2 300.29L296.7 298.84L298.2 297.46L299.7 296.14L301.2 294.87L302.7 293.65L304.2 292.48L305.7 291.37L307.2 290.29L308.7 289.27L310.2 288.28L311.7 287.34L313.2 286.44L314.7 285.58L316.2 284.75L317.7 283.97L319.2 283.21L320.7 282.5L322.2 281.82L323.7 281.17L325.2 280.55L326.7 279.97L328.2 279.42L329.7 278.9L331.2 278.41L332.7 277.96L334.2 277.53L335.7 277.14L337.2 276.77L338.7 276.43L340.2 276.13L341.7 275.85L343.2 275.6L344.7 275.37L346.2 275.18L347.7 275.01L349.2 274.87L350.7 274.76L352.2 274.68L353.7 274.61L355.2 274.58L356.7 274.57L358.2 274.58L359.7 274.62L361.2 274.69L362.7 274.77L364.2 274.88L365.7 275.01L367.2 275.16L368.7 275.33L370.2 275.52L371.7 275.72L373.2 275.95L374.7 276.19L376.2 276.45L377.7 276.72L379.2 277.01L380.7 277.31L382.2 277.62L383.7 277.95L385.2 278.28L386.7 278.63L388.2 278.98L389.7 279.34L391.2 279.71L392.7 280.08L394.2 280.45L395.7 280.83L397.2 281.21L398.7 281.59L400.2 281.97L401.7 282.35L403.2 282.73L404.7 283.11L406.2 283.49L407.7 283.86L409.2 284.22L410.7 284.58L412.2 284.94L413.7 285.29L415.2 285.64L416.7 285.97L418.2 286.3L419.7 286.63L421.2 286.95L422.7 287.26L424.2 287.57L425.7 287.88L427.2 288.18L428.7 288.47L430.2 288.77L431.7 289.07L433.2 289.36L434.7 289.66L436.2 289.97L437.7 290.28L439.2 290.6L440.7 290.94L442.2 291.29L443.7 291.66L445.2 292.06L446.7 292.48L448.2 292.94L449.7 293.43" stroke="#f0c21a" stroke-width="2.2" fill="none"/><ellipse cx="286.8" cy="309.64" rx="1.87" ry="1.87" fill="#f0c21a"/><ellipse cx="291.46" cy="304.17" rx="1.87" ry="1.87" fill="#f0c21a"/><ellipse cx="296.12" cy="299.4" rx="1.87" ry="1.87" fill="#f0c21a"/><ellipse cx="300.77" cy="295.22" rx="1.87" ry="1.87" fill="#f0c21a"/><ellipse cx="305.43" cy="291.56" rx="1.87" ry="1.87" fill="#f0c21a"/><ellipse cx="310.09" cy="288.35" rx="1.87" ry="1.87" fill="#f0c21a"/><ellipse cx="314.75" cy="285.55" rx="1.87" ry="1.87" fill="#f0c21a"/><ellipse cx="319.41" cy="283.11" rx="1.87" ry="1.87" fill="#f0c21a"/><ellipse cx="324.06" cy="281.02" rx="1.87" ry="1.87" fill="#f0c21a"/><ellipse cx="328.72" cy="279.24" rx="1.87" ry="1.87" fill="#f0c21a"/><ellipse cx="333.38" cy="277.76" rx="1.87" ry="1.87" fill="#f0c21a"/><ellipse cx="338.04" cy="276.58" rx="1.87" ry="1.87" fill="#f0c21a"/><ellipse cx="342.7" cy="275.68" rx="1.87" ry="1.87" fill="#f0c21a"/><ellipse cx="347.35" cy="275.05" rx="1.87" ry="1.87" fill="#f0c21a"/><ellipse cx="352.01" cy="274.68" rx="1.87" ry="1.87" fill="#f0c21a"/><ellipse cx="356.67" cy="274.57" rx="1.87" ry="1.87" fill="#f0c21a"/><ellipse cx="361.33" cy="274.69" rx="1.87" ry="1.87" fill="#f0c21a"/><ellipse cx="365.99" cy="275.03" rx="1.87" ry="1.87" fill="#f0c21a"/><ellipse cx="370.64" cy="275.57" rx="1.87" ry="1.87" fill="#f0c21a"/><ellipse cx="375.3" cy="276.29" rx="1.87" ry="1.87" fill="#f0c21a"/><ellipse cx="379.96" cy="277.16" rx="1.87" ry="1.87" fill="#f0c21a"/><ellipse cx="384.62" cy="278.15" rx="1.87" ry="1.87" fill="#f0c21a"/><ellipse cx="389.28" cy="279.24" rx="1.87" ry="1.87" fill="#f0c21a"/><ellipse cx="393.93" cy="280.38" rx="1.87" ry="1.87" fill="#f0c21a"/><ellipse cx="398.59" cy="281.56" rx="1.87" ry="1.87" fill="#f0c21a"/><ellipse cx="403.25" cy="282.75" rx="1.87" ry="1.87" fill="#f0c21a"/><ellipse cx="407.91" cy="283.91" rx="1.87" ry="1.87" fill="#f0c21a"/><ellipse cx="412.57" cy="285.03" rx="1.87" ry="1.87" fill="#f0c21a"/><ellipse cx="417.22" cy="286.09" rx="1.87" ry="1.87" fill="#f0c21a"/><ellipse cx="421.88" cy="287.09" rx="1.87" ry="1.87" fill="#f0c21a"/><ellipse cx="426.54" cy="288.04" rx="1.87" ry="1.87" fill="#f0c21a"/><ellipse cx="431.2" cy="288.97" rx="1.87" ry="1.87" fill="#f0c21a"/><ellipse cx="435.86" cy="289.9" rx="1.87" ry="1.87" fill="#f0c21a"/><ellipse cx="440.51" cy="290.9" rx="1.87" ry="1.87" fill="#f0c21a"/><ellipse cx="445.17" cy="292.05" rx="1.87" ry="1.87" fill="#f0c21a"/><ellipse cx="449.83" cy="293.47" rx="1.87" ry="1.87" fill="#f0c21a"/></g><rect x="286.2" y="259.3" width="163.4" height="132.2" fill="none" stroke="#1c1c1c" stroke-width="1.5"/><path d="M286.2 380.63h2" stroke="#1c1c1c" stroke-width="1"/><path d="M286.2 370.16h3.2" stroke="#1c1c1c" stroke-width="1.2"/><text x="282.6" y="373.66" font-size="10.2" font-family="Liberation Sans, Arial, sans-serif" font-weight="bold" fill="#141414" stroke="#141414" stroke-width="0.45" text-anchor="end" textLength="11.2" lengthAdjust="spacingAndGlyphs">15</text><path d="M286.2 359.69h2" stroke="#1c1c1c" stroke-width="1"/><path d="M286.2 349.22h3.2" stroke="#1c1c1c" stroke-width="1.2"/><text x="282.6" y="352.72" font-size="10.2" font-family="Liberation Sans, Arial, sans-serif" font-weight="bold" fill="#141414" stroke="#141414" stroke-width="0.45" text-anchor="end" textLength="11.2" lengthAdjust="spacingAndGlyphs">30</text><path d="M286.2 338.75h2" stroke="#1c1c1c" stroke-width="1"/><path d="M286.2 328.28h3.2" stroke="#1c1c1c" stroke-width="1.2"/><text x="282.6" y="331.78" font-size="10.2" font-family="Liberation Sans, Arial, sans-serif" font-weight="bold" fill="#141414" stroke="#141414" stroke-width="0.45" text-anchor="end" textLength="11.2" lengthAdjust="spacingAndGlyphs">45</text><path d="M286.2 317.81h2" stroke="#1c1c1c" stroke-width="1"/><path d="M286.2 307.34h3.2" stroke="#1c1c1c" stroke-width="1.2"/><text x="282.6" y="310.84" font-size="10.2" font-family="Liberation Sans, Arial, sans-serif" font-weight="bold" fill="#141414" stroke="#141414" stroke-width="0.45" text-anchor="end" textLength="11.2" lengthAdjust="spacingAndGlyphs">60</text><path d="M286.2 296.87h2" stroke="#1c1c1c" stroke-width="1"/><path d="M286.2 286.4h3.2" stroke="#1c1c1c" stroke-width="1.2"/><text x="282.6" y="289.9" font-size="10.2" font-family="Liberation Sans, Arial, sans-serif" font-weight="bold" fill="#141414" stroke="#141414" stroke-width="0.45" text-anchor="end" textLength="11.2" lengthAdjust="spacingAndGlyphs">75</text><path d="M286.2 275.93h2" stroke="#1c1c1c" stroke-width="1"/><path d="M286.2 265.46h3.2" stroke="#1c1c1c" stroke-width="1.2"/><text x="282.6" y="268.96" font-size="10.2" font-family="Liberation Sans, Arial, sans-serif" font-weight="bold" fill="#141414" stroke="#141414" stroke-width="0.45" text-anchor="end" textLength="11.2" lengthAdjust="spacingAndGlyphs">90</text><text x="286.2" y="403.8" font-size="10.4" font-family="Liberation Sans, Arial, sans-serif" font-weight="bold" fill="#141414" stroke="#141414" stroke-width="0.45" text-anchor="middle" textLength="18" lengthAdjust="spacingAndGlyphs">450</text><path d="M297.84 391.5v-2" stroke="#1c1c1c" stroke-width="1"/><path d="M309.49 391.5v-3.2" stroke="#1c1c1c" stroke-width="1.2"/><text x="309.49" y="403.8" font-size="10.4" font-family="Liberation Sans, Arial, sans-serif" font-weight="bold" fill="#141414" stroke="#141414" stroke-width="0.45" text-anchor="middle" textLength="18" lengthAdjust="spacingAndGlyphs">500</text><path d="M321.13 391.5v-2" stroke="#1c1c1c" stroke-width="1"/><path d="M332.78 391.5v-3.2" stroke="#1c1c1c" stroke-width="1.2"/><text x="332.78" y="403.8" font-size="10.4" font-family="Liberation Sans, Arial, sans-serif" font-weight="bold" fill="#141414" stroke="#141414" stroke-width="0.45" text-anchor="middle" textLength="18" lengthAdjust="spacingAndGlyphs">550</text><path d="M344.42 391.5v-2" stroke="#1c1c1c" stroke-width="1"/><path d="M356.07 391.5v-3.2" stroke="#1c1c1c" stroke-width="1.2"/><text x="356.07" y="403.8" font-size="10.4" font-family="Liberation Sans, Arial, sans-serif" font-weight="bold" fill="#141414" stroke="#141414" stroke-width="0.45" text-anchor="middle" textLength="18" lengthAdjust="spacingAndGlyphs">600</text><path d="M367.71 391.5v-2" stroke="#1c1c1c" stroke-width="1"/><path d="M379.36 391.5v-3.2" stroke="#1c1c1c" stroke-width="1.2"/><text x="379.36" y="403.8" font-size="10.4" font-family="Liberation Sans, Arial, sans-serif" font-weight="bold" fill="#141414" stroke="#141414" stroke-width="0.45" text-anchor="middle" textLength="18" lengthAdjust="spacingAndGlyphs">650</text><path d="M391 391.5v-2" stroke="#1c1c1c" stroke-width="1"/><path d="M402.65 391.5v-3.2" stroke="#1c1c1c" stroke-width="1.2"/><text x="402.65" y="403.8" font-size="10.4" font-family="Liberation Sans, Arial, sans-serif" font-weight="bold" fill="#141414" stroke="#141414" stroke-width="0.45" text-anchor="middle" textLength="18" lengthAdjust="spacingAndGlyphs">700</text><path d="M414.29 391.5v-2" stroke="#1c1c1c" stroke-width="1"/><path d="M425.94 391.5v-3.2" stroke="#1c1c1c" stroke-width="1.2"/><text x="425.94" y="403.8" font-size="10.4" font-family="Liberation Sans, Arial, sans-serif" font-weight="bold" fill="#141414" stroke="#141414" stroke-width="0.45" text-anchor="middle" textLength="18" lengthAdjust="spacingAndGlyphs">750</text><path d="M437.58 391.5v-2" stroke="#1c1c1c" stroke-width="1"/><text x="449.23" y="403.8" font-size="10.4" font-family="Liberation Sans, Arial, sans-serif" font-weight="bold" fill="#141414" stroke="#141414" stroke-width="0.45" text-anchor="middle" textLength="18" lengthAdjust="spacingAndGlyphs">800</text><text transform="translate(267.8 325.2) rotate(-90)" x="0" y="0" font-size="11" font-family="Liberation Sans, Arial, sans-serif" font-weight="bold" fill="#141414" stroke="#141414" stroke-width="0.45" text-anchor="middle" textLength="94.5" lengthAdjust="spacingAndGlyphs">Transmittance (%)</text><text x="323.1" y="414.8" font-size="11" font-family="Liberation Sans, Arial, sans-serif" font-weight="bold" fill="#141414" stroke="#141414" stroke-width="0.45" textLength="88.3" lengthAdjust="spacingAndGlyphs">Wavelength (nm)</text><path d="M450.8 264H467" stroke="#f0c21a" stroke-width="2.8"/><ellipse cx="458.9" cy="264" rx="3.77" ry="2.9" fill="#f0c21a"/><text x="470.5" y="266.9" font-size="8.2" font-family="Liberation Sans, Arial, sans-serif" font-weight="bold" fill="#141414" stroke="#141414" stroke-width="0.4" textLength="21.71" lengthAdjust="spacingAndGlyphs">1508 s</text><path d="M450.8 279.35H467" stroke="#f49d2a" stroke-width="2.8"/><path d="M458.9 275.73L463.24 281.67L454.56 281.67Z" fill="#f49d2a"/><text x="470.5" y="282.25" font-size="8.2" font-family="Liberation Sans, Arial, sans-serif" font-weight="bold" fill="#141414" stroke="#141414" stroke-width="0.4" textLength="21.71" lengthAdjust="spacingAndGlyphs">1308 s</text><path d="M450.8 294.7H467" stroke="#f06a22" stroke-width="2.8"/><path d="M458.9 290.93L463.24 294.7L458.9 298.47L454.56 294.7Z" fill="#f06a22"/><text x="470.5" y="297.6" font-size="8.2" font-family="Liberation Sans, Arial, sans-serif" font-weight="bold" fill="#141414" stroke="#141414" stroke-width="0.4" textLength="21.71" lengthAdjust="spacingAndGlyphs">1108 s</text><path d="M450.8 310.05H467" stroke="#e8482e" stroke-width="2.8"/><path d="M458.9 306.13L460.22 309.04L463.42 310.05L460.22 311.06L458.9 313.97L457.58 311.06L454.38 310.05L457.58 309.04Z" fill="#e8482e"/><text x="470.5" y="312.95" font-size="8.2" font-family="Liberation Sans, Arial, sans-serif" font-weight="bold" fill="#141414" stroke="#141414" stroke-width="0.4" textLength="17.76" lengthAdjust="spacingAndGlyphs">908 s</text><path d="M450.8 325.4H467" stroke="#dc2626" stroke-width="2.8"/><ellipse cx="458.9" cy="325.4" rx="4.15" ry="1.8" fill="#dc2626"/><text x="470.5" y="328.3" font-size="8.2" font-family="Liberation Sans, Arial, sans-serif" font-weight="bold" fill="#141414" stroke="#141414" stroke-width="0.4" textLength="17.76" lengthAdjust="spacingAndGlyphs">708 s</text><path d="M450.8 340.75H467" stroke="#98101a" stroke-width="2.8"/><rect x="455.13" y="337.85" width="7.54" height="5.8" fill="#98101a"/><text x="470.5" y="343.65" font-size="8.2" font-family="Liberation Sans, Arial, sans-serif" font-weight="bold" fill="#141414" stroke="#141414" stroke-width="0.4" textLength="17.76" lengthAdjust="spacingAndGlyphs">608 s</text><path d="M450.8 356.1H467" stroke="#6c1717" stroke-width="2.8"/><path d="M458.9 359.73L463.24 353.78L454.56 353.78Z" fill="#6c1717"/><text x="470.5" y="359" font-size="8.2" font-family="Liberation Sans, Arial, sans-serif" font-weight="bold" fill="#141414" stroke="#141414" stroke-width="0.4" textLength="17.76" lengthAdjust="spacingAndGlyphs">508 s</text><path d="M450.8 371.45H467" stroke="#481313" stroke-width="2.8"/><path d="M458.9 367.68L463.24 371.45L458.9 375.22L454.56 371.45Z" fill="#481313"/><text x="470.5" y="374.35" font-size="8.2" font-family="Liberation Sans, Arial, sans-serif" font-weight="bold" fill="#141414" stroke="#141414" stroke-width="0.4" textLength="17.76" lengthAdjust="spacingAndGlyphs">308 s</text><path d="M450.8 386.8H467" stroke="#0e0e0e" stroke-width="2.8"/><path d="M463.8 386.8L455.51 383.61L455.51 389.99Z" fill="#0e0e0e"/><text x="470.5" y="389.7" font-size="8.2" font-family="Liberation Sans, Arial, sans-serif" font-weight="bold" fill="#141414" stroke="#141414" stroke-width="0.4" textLength="13.82" lengthAdjust="spacingAndGlyphs">96 s</text></svg></body></html>
